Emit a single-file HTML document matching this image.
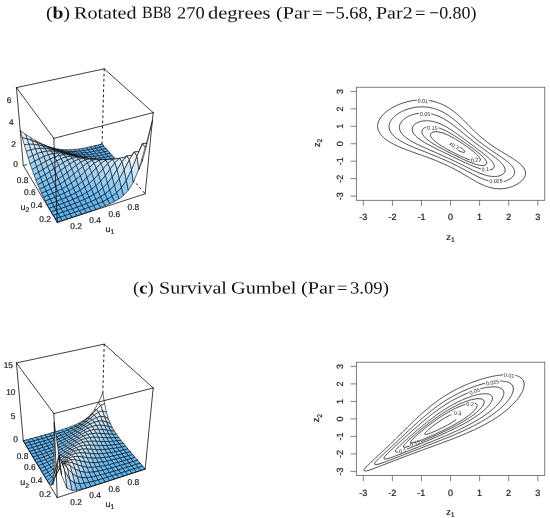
<!DOCTYPE html>
<html><head><meta charset="utf-8"><title>Copula density plots</title>
<style>
html,body{margin:0;padding:0;background:#fff;}
body{width:550px;height:518px;position:relative;overflow:hidden;font-family:"Liberation Serif",serif;}
.t{position:absolute;white-space:nowrap;color:#111;font-size:17.2px;line-height:20px;transform-origin:0 0;}
</style></head><body>
<svg width="550" height="518" viewBox="0 0 550 518" style="position:absolute;left:0;top:0" text-rendering="geometricPrecision">
<g id="surf1"><g stroke="#000" stroke-width="0.9" fill="none" stroke-dasharray="2.6 2.6">
<line x1="102.03" y1="144.01" x2="104.22" y2="68.84"/>
<line x1="102.03" y1="144.01" x2="145.16" y2="193.81"/>
<line x1="102.03" y1="144.01" x2="23.3" y2="165.56"/>
</g>
<g stroke="#000" stroke-width="0.58" stroke-linejoin="round">
<polygon points="100.1,147.24 104.03,146.24 102.03,143.95 98.12,144.96" fill="#5fb4f2"/>
<polygon points="96.14,148.21 100.1,147.24 98.12,144.96 94.19,145.93" fill="#5fb4f2"/>
<polygon points="92.17,149.1 96.14,148.21 94.19,145.93 90.23,146.85" fill="#5fb4f2"/>
<polygon points="102.1,149.56 106.05,148.55 104.03,146.24 100.1,147.24" fill="#5fb4f2"/>
<polygon points="98.13,150.5 102.1,149.56 100.1,147.24 96.14,148.21" fill="#5fb4f2"/>
<polygon points="88.16,149.91 92.17,149.1 90.23,146.85 86.25,147.69" fill="#5fb4f2"/>
<polygon points="94.13,151.37 98.13,150.5 96.14,148.21 92.17,149.1" fill="#5fb4f2"/>
<polygon points="104.13,151.89 108.1,150.89 106.05,148.55 102.1,149.56" fill="#5fb4f2"/>
<polygon points="84.13,150.59 88.16,149.91 86.25,147.69 82.23,148.44" fill="#62b6f2"/>
<polygon points="100.14,152.81 104.13,151.89 102.1,149.56 98.13,150.5" fill="#5fb4f2"/>
<polygon points="90.1,152.12 94.13,151.37 92.17,149.1 88.16,149.91" fill="#62b6f2"/>
<polygon points="80.06,151.12 84.13,150.59 82.23,148.44 78.19,149.05" fill="#66b7f3"/>
<polygon points="106.19,154.23 110.18,153.26 108.1,150.89 104.13,151.89" fill="#5fb4f2"/>
<polygon points="96.12,153.62 100.14,152.81 98.13,150.5 94.13,151.37" fill="#5fb4f2"/>
<polygon points="86.05,152.72 90.1,152.12 88.16,149.91 84.13,150.59" fill="#62b6f2"/>
<polygon points="75.96,151.46 80.06,151.12 78.19,149.05 74.11,149.51" fill="#66b7f3"/>
<polygon points="102.18,155.11 106.19,154.23 104.13,151.89 100.14,152.81" fill="#5fb4f2"/>
<polygon points="92.08,154.3 96.12,153.62 94.13,151.37 90.1,152.12" fill="#62b6f2"/>
<polygon points="81.96,153.13 86.05,152.72 84.13,150.59 80.06,151.12" fill="#66b7f3"/>
<polygon points="71.82,151.57 75.96,151.46 74.11,149.51 70,149.76" fill="#6cbaf3"/>
<polygon points="108.28,156.59 112.29,155.64 110.18,153.26 106.19,154.23" fill="#5fb4f2"/>
<polygon points="98.14,155.86 102.18,155.11 100.14,152.81 96.12,153.62" fill="#62b6f2"/>
<polygon points="88,154.79 92.08,154.3 90.1,152.12 86.05,152.72" fill="#66b7f3"/>
<polygon points="77.84,153.32 81.96,153.13 80.06,151.12 75.96,151.46" fill="#69b9f3"/>
<polygon points="67.64,151.41 71.82,151.57 70,149.76 65.84,149.78" fill="#6fbcf3"/>
<polygon points="104.25,157.41 108.28,156.59 106.19,154.23 102.18,155.11" fill="#5fb4f2"/>
<polygon points="94.08,156.42 98.14,155.86 96.12,153.62 92.08,154.3" fill="#62b6f2"/>
<polygon points="83.89,155.05 88,154.79 86.05,152.72 81.96,153.13" fill="#69b9f3"/>
<polygon points="73.67,153.25 77.84,153.32 75.96,151.46 71.82,151.57" fill="#6fbcf3"/>
<polygon points="110.4,158.94 114.43,158.05 112.29,155.64 108.28,156.59" fill="#5fb4f2"/>
<polygon points="100.2,158.05 104.25,157.41 102.18,155.11 98.14,155.86" fill="#62b6f2"/>
<polygon points="89.98,156.76 94.08,156.42 92.08,154.3 88,154.79" fill="#66b7f3"/>
<polygon points="63.4,150.96 67.64,151.41 65.84,149.78 61.63,149.51" fill="#76bff4"/>
<polygon points="79.74,155.05 83.89,155.05 81.96,153.13 77.84,153.32" fill="#6cbaf3"/>
<polygon points="106.36,159.67 110.4,158.94 108.28,156.59 104.25,157.41" fill="#5fb4f2"/>
<polygon points="96.11,158.47 100.2,158.05 98.14,155.86 94.08,156.42" fill="#66b7f3"/>
<polygon points="69.46,152.88 73.67,153.25 71.82,151.57 67.64,151.41" fill="#73bdf4"/>
<polygon points="85.85,156.83 89.98,156.76 88,154.79 83.89,155.05" fill="#69b9f3"/>
<polygon points="112.56,161.27 116.6,160.45 114.43,158.05 110.4,158.94" fill="#5fb4f2"/>
<polygon points="59.1,150.18 63.4,150.96 61.63,149.51 57.37,148.93" fill="#80c3f5"/>
<polygon points="75.55,154.75 79.74,155.05 77.84,153.32 73.67,153.25" fill="#73bdf4"/>
<polygon points="102.28,160.18 106.36,159.67 104.25,157.41 100.2,158.05" fill="#62b6f2"/>
<polygon points="92,158.6 96.11,158.47 94.08,156.42 89.98,156.76" fill="#69b9f3"/>
<polygon points="65.19,152.22 69.46,152.88 67.64,151.41 63.4,150.96" fill="#7cc2f4"/>
<polygon points="81.68,156.58 85.85,156.83 83.89,155.05 79.74,155.05" fill="#6fbcf3"/>
<polygon points="108.49,161.88 112.56,161.27 110.4,158.94 106.36,159.67" fill="#62b6f2"/>
<polygon points="98.18,160.39 102.28,160.18 100.2,158.05 96.11,158.47" fill="#66b7f3"/>
<polygon points="71.31,154.15 75.55,154.75 73.67,153.25 69.46,152.88" fill="#79c0f4"/>
<polygon points="54.74,149.09 59.1,150.18 57.37,148.93 53.04,147.98" fill="#89c8f5"/>
<polygon points="87.85,158.41 92,158.6 89.98,156.76 85.85,156.83" fill="#6cbaf3"/>
<polygon points="114.75,163.56 118.8,162.86 116.6,160.45 112.56,161.27" fill="#5fb4f2"/>
<polygon points="104.41,162.18 108.49,161.88 106.36,159.67 102.28,160.18" fill="#66b7f3"/>
<polygon points="77.46,156.03 81.68,156.58 79.74,155.05 75.55,154.75" fill="#76bff4"/>
<polygon points="60.86,151.27 65.19,152.22 63.4,150.96 59.1,150.18" fill="#83c5f5"/>
<polygon points="94.05,160.25 98.18,160.39 96.11,158.47 92,158.6" fill="#6cbaf3"/>
<polygon points="110.67,163.97 114.75,163.56 112.56,161.27 108.49,161.88" fill="#62b6f2"/>
<polygon points="67.01,153.28 71.31,154.15 69.46,152.88 65.19,152.22" fill="#80c3f5"/>
<polygon points="83.65,157.88 87.85,158.41 85.85,156.83 81.68,156.58" fill="#73bdf4"/>
<polygon points="100.29,162.1 104.41,162.18 102.28,160.18 98.18,160.39" fill="#69b9f3"/>
<polygon points="50.31,147.69 54.74,149.09 53.04,147.98 48.64,146.64" fill="#93ccf6"/>
<polygon points="73.19,155.19 77.46,156.03 75.55,154.75 71.31,154.15" fill="#80c3f5"/>
<polygon points="116.98,165.77 121.04,165.23 118.8,162.86 114.75,163.56" fill="#62b6f2"/>
<polygon points="89.88,159.73 94.05,160.25 92,158.6 87.85,158.41" fill="#73bdf4"/>
<polygon points="56.47,150.08 60.86,151.27 59.1,150.18 54.74,149.09" fill="#90cbf6"/>
<polygon points="106.57,163.99 110.67,163.97 108.49,161.88 104.41,162.18" fill="#69b9f3"/>
<polygon points="79.4,157.03 83.65,157.88 81.68,156.58 77.46,156.03" fill="#7cc2f4"/>
<polygon points="62.65,152.2 67.01,153.28 65.19,152.22 60.86,151.27" fill="#89c8f5"/>
<polygon points="96.14,161.61 100.29,162.1 98.18,160.39 94.05,160.25" fill="#6fbcf3"/>
<polygon points="112.89,165.89 116.98,165.77 114.75,163.56 110.67,163.97" fill="#66b7f3"/>
<polygon points="45.8,146.03 50.31,147.69 48.64,146.64 44.16,144.88" fill="#a0d3f7"/>
<polygon points="85.66,158.86 89.88,159.73 87.85,158.41 83.65,157.88" fill="#79c0f4"/>
<polygon points="68.86,154.14 73.19,155.19 71.31,154.15 67.01,153.28" fill="#89c8f5"/>
<polygon points="102.45,163.53 106.57,163.99 104.41,162.18 100.29,162.1" fill="#6cbaf3"/>
<polygon points="52.01,148.73 56.47,150.08 54.74,149.09 50.31,147.69" fill="#9ad0f7"/>
<polygon points="119.25,167.81 123.32,167.55 121.04,165.23 116.98,165.77" fill="#62b6f2"/>
<polygon points="91.95,160.69 96.14,161.61 94.05,160.25 89.88,159.73" fill="#79c0f4"/>
<polygon points="75.1,155.97 79.4,157.03 77.46,156.03 73.19,155.19" fill="#86c6f5"/>
<polygon points="108.79,165.49 112.89,165.89 110.67,163.97 106.57,163.99" fill="#6cbaf3"/>
<polygon points="58.23,151.02 62.65,152.2 60.86,151.27 56.47,150.08" fill="#97cef7"/>
<polygon points="98.29,162.57 102.45,163.53 100.29,162.1 96.14,161.61" fill="#76bff4"/>
<polygon points="81.38,157.73 85.66,158.86 83.65,157.88 79.4,157.03" fill="#83c5f5"/>
<polygon points="115.17,167.52 119.25,167.81 116.98,165.77 112.89,165.89" fill="#69b9f3"/>
<polygon points="64.46,153.02 68.86,154.14 67.01,153.28 62.65,152.2" fill="#93ccf6"/>
<polygon points="41.22,144.21 45.8,146.03 44.16,144.88 39.58,142.72" fill="#add9f8"/>
<polygon points="47.49,147.34 52.01,148.73 50.31,147.69 45.8,146.03" fill="#a7d6f8"/>
<polygon points="104.66,164.52 108.79,165.49 106.57,163.99 102.45,163.53" fill="#73bdf4"/>
<polygon points="121.58,169.59 125.65,169.74 123.32,167.55 119.25,167.81" fill="#66b7f3"/>
<polygon points="87.71,159.46 91.95,160.69 89.88,159.73 85.66,158.86" fill="#83c5f5"/>
<polygon points="70.74,154.83 75.1,155.97 73.19,155.19 68.86,154.14" fill="#90cbf6"/>
<polygon points="53.75,149.88 58.23,151.02 56.47,150.08 52.01,148.73" fill="#a0d3f7"/>
<polygon points="111.07,166.55 115.17,167.52 112.89,165.89 108.79,165.49" fill="#6fbcf3"/>
<polygon points="94.08,161.21 98.29,162.57 96.14,161.61 91.95,160.69" fill="#80c3f5"/>
<polygon points="77.05,156.51 81.38,157.73 79.4,157.03 75.1,155.97" fill="#8dc9f6"/>
<polygon points="60.02,152 64.46,153.02 62.65,152.2 58.23,151.02" fill="#9dd1f7"/>
<polygon points="117.51,168.67 121.58,169.59 119.25,167.81 115.17,167.52" fill="#6cbaf3"/>
<polygon points="36.56,142.32 41.22,144.21 39.58,142.72 34.91,140.15" fill="#bee0fa"/>
<polygon points="42.91,146.05 47.49,147.34 45.8,146.03 41.22,144.21" fill="#b1daf9"/>
<polygon points="100.49,163.01 104.66,164.52 102.45,163.53 98.29,162.57" fill="#7cc2f4"/>
<polygon points="83.4,158.1 87.71,159.46 85.66,158.86 81.38,157.73" fill="#8dc9f6"/>
<polygon points="66.32,153.84 70.74,154.83 68.86,154.14 64.46,153.02" fill="#9ad0f7"/>
<polygon points="49.21,148.94 53.75,149.88 52.01,148.73 47.49,147.34" fill="#aad7f8"/>
<polygon points="123.98,170.9 128.03,171.69 125.65,169.74 121.58,169.59" fill="#69b9f3"/>
<polygon points="106.94,164.9 111.07,166.55 108.79,165.49 104.66,164.52" fill="#79c0f4"/>
<polygon points="89.81,159.65 94.08,161.21 91.95,160.69 87.71,159.46" fill="#89c8f5"/>
<polygon points="72.65,155.46 77.05,156.51 75.1,155.97 70.74,154.83" fill="#9ad0f7"/>
<polygon points="55.52,151.27 60.02,152 58.23,151.02 53.75,149.88" fill="#a7d6f8"/>
<polygon points="113.42,166.91 117.51,168.67 115.17,167.52 111.07,166.55" fill="#76bff4"/>
<polygon points="61.85,153.2 66.32,153.84 64.46,153.02 60.02,152" fill="#a4d4f8"/>
<polygon points="38.28,145.02 42.91,146.05 41.22,144.21 36.56,142.32" fill="#bee0fa"/>
<polygon points="96.26,161.2 100.49,163.01 98.29,162.57 94.08,161.21" fill="#89c8f5"/>
<polygon points="79.04,156.91 83.4,158.1 81.38,157.73 77.05,156.51" fill="#97cef7"/>
<polygon points="31.84,140.51 36.56,142.32 34.91,140.15 30.12,137.24" fill="#cbe7fb"/>
<polygon points="44.64,148.38 49.21,148.94 47.49,147.34 42.91,146.05" fill="#b4dcf9"/>
<polygon points="119.94,169.08 123.98,170.9 121.58,169.59 117.51,168.67" fill="#73bdf4"/>
<polygon points="50.99,151 55.52,151.27 53.75,149.88 49.21,148.94" fill="#b1daf9"/>
<polygon points="68.21,154.82 72.65,155.46 70.74,154.83 66.32,153.84" fill="#a4d4f8"/>
<polygon points="102.75,162.79 106.94,164.9 104.66,164.52 100.49,163.01" fill="#86c6f5"/>
<polygon points="85.47,158.24 89.81,159.65 87.71,159.46 83.4,158.1" fill="#97cef7"/>
<polygon points="126.49,171.42 130.49,173.22 128.03,171.69 123.98,170.9" fill="#6fbcf3"/>
<polygon points="57.34,153.1 61.85,153.2 60.02,152 55.52,151.27" fill="#add9f8"/>
<polygon points="109.3,164.47 113.42,166.91 111.07,166.55 106.94,164.9" fill="#86c6f5"/>
<polygon points="33.61,144.37 38.28,145.02 36.56,142.32 31.84,140.51" fill="#cbe7fb"/>
<polygon points="74.61,156.2 79.04,156.91 77.05,156.51 72.65,155.46" fill="#a0d3f7"/>
<polygon points="40.05,148.3 44.64,148.38 42.91,146.05 38.28,145.02" fill="#bee0fa"/>
<polygon points="91.95,159.49 96.26,161.2 94.08,161.21 89.81,159.65" fill="#97cef7"/>
<polygon points="27.06,138.92 31.84,140.51 30.12,137.24 25.23,134.05" fill="#dbeefc"/>
<polygon points="46.44,151.28 50.99,151 49.21,148.94 44.64,148.38" fill="#b7ddf9"/>
<polygon points="63.73,154.81 68.21,154.82 66.32,153.84 61.85,153.2" fill="#aad7f8"/>
<polygon points="115.88,166.29 119.94,169.08 117.51,168.67 113.42,166.91" fill="#83c5f5"/>
<polygon points="81.07,157.37 85.47,158.24 83.4,158.1 79.04,156.91" fill="#a4d4f8"/>
<polygon points="52.82,153.64 57.34,153.1 55.52,151.27 50.99,151" fill="#b4dcf9"/>
<polygon points="98.5,160.69 102.75,162.79 100.49,163.01 96.26,161.2" fill="#97cef7"/>
<polygon points="122.5,168.31 126.49,171.42 123.98,170.9 119.94,169.08" fill="#80c3f5"/>
<polygon points="35.44,148.77 40.05,148.3 38.28,145.02 33.61,144.37" fill="#c4e3fa"/>
<polygon points="70.15,156.21 74.61,156.2 72.65,155.46 68.21,154.82" fill="#aad7f8"/>
<polygon points="28.93,144.22 33.61,144.37 31.84,140.51 27.06,138.92" fill="#d5ebfc"/>
<polygon points="41.88,152.17 46.44,151.28 44.64,148.38 40.05,148.3" fill="#badff9"/>
<polygon points="59.22,155.53 63.73,154.81 61.85,153.2 57.34,153.1" fill="#b1daf9"/>
<polygon points="129.14,170.58 133.06,173.94 130.49,173.22 126.49,171.42" fill="#7cc2f4"/>
<polygon points="87.58,158.37 91.95,159.49 89.81,159.65 85.47,158.24" fill="#a4d4f8"/>
<polygon points="105.1,161.87 109.3,164.47 106.94,164.9 102.75,162.79" fill="#97cef7"/>
<polygon points="48.29,154.82 52.82,153.64 50.99,151 46.44,151.28" fill="#b7ddf9"/>
<polygon points="76.61,157.35 81.07,157.37 79.04,156.91 74.61,156.2" fill="#aad7f8"/>
<polygon points="22.24,137.69 27.06,138.92 25.23,134.05 20.24,130.69" fill="#ebf6fd"/>
<polygon points="30.83,149.8 35.44,148.77 33.61,144.37 28.93,144.22" fill="#cbe7fb"/>
<polygon points="37.31,153.61 41.88,152.17 40.05,148.3 35.44,148.77" fill="#bee0fa"/>
<polygon points="65.65,157.07 70.15,156.21 68.21,154.82 63.73,154.81" fill="#b1daf9"/>
<polygon points="111.76,163.09 115.88,166.29 113.42,166.91 109.3,164.47" fill="#93ccf6"/>
<polygon points="54.7,156.96 59.22,155.53 57.34,153.1 52.82,153.64" fill="#b4dcf9"/>
<polygon points="94.16,159.21 98.5,160.69 96.26,161.2 91.95,159.49" fill="#a4d4f8"/>
<polygon points="24.24,144.61 28.93,144.22 27.06,138.92 22.24,137.69" fill="#dbeefc"/>
<polygon points="43.75,156.58 48.29,154.82 46.44,151.28 41.88,152.17" fill="#b7ddf9"/>
<polygon points="32.75,155.51 37.31,153.61 35.44,148.77 30.83,149.8" fill="#bee0fa"/>
<polygon points="83.14,158.23 87.58,158.37 85.47,158.24 81.07,157.37" fill="#add9f8"/>
<polygon points="26.23,151.32 30.83,149.8 28.93,144.22 24.24,144.61" fill="#cbe7fb"/>
<polygon points="118.47,164.4 122.5,168.31 119.94,169.08 115.88,166.29" fill="#93ccf6"/>
<polygon points="50.18,158.98 54.7,156.96 52.82,153.64 48.29,154.82" fill="#b4dcf9"/>
<polygon points="61.14,158.71 65.65,157.07 63.73,154.81 59.22,155.53" fill="#b1daf9"/>
<polygon points="72.13,158.29 76.61,157.35 74.61,156.2 70.15,156.21" fill="#b1daf9"/>
<polygon points="39.22,158.76 43.75,156.58 41.88,152.17 37.31,153.61" fill="#b4dcf9"/>
<polygon points="100.8,159.9 105.1,161.87 102.75,162.79 98.5,160.69" fill="#a4d4f8"/>
<polygon points="28.2,157.75 32.75,155.51 30.83,149.8 26.23,151.32" fill="#bee0fa"/>
<polygon points="45.66,161.41 50.18,158.98 48.29,154.82 43.75,156.58" fill="#b1daf9"/>
<polygon points="34.68,161.23 39.22,158.76 37.31,153.61 32.75,155.51" fill="#b1daf9"/>
<polygon points="125.23,165.85 129.14,170.58 126.49,171.42 122.5,168.31" fill="#90cbf6"/>
<polygon points="56.63,160.97 61.14,158.71 59.22,155.53 54.7,156.96" fill="#b1daf9"/>
<polygon points="89.74,158.89 94.16,159.21 91.95,159.49 87.58,158.37" fill="#add9f8"/>
<polygon points="67.62,160.14 72.13,158.29 70.15,156.21 65.65,157.07" fill="#b1daf9"/>
<polygon points="41.14,164.08 45.66,161.41 43.75,156.58 39.22,158.76" fill="#aad7f8"/>
<polygon points="30.15,163.85 34.68,161.23 32.75,155.51 28.2,157.75" fill="#add9f8"/>
<polygon points="78.66,159.25 83.14,158.23 81.07,157.37 76.61,157.35" fill="#b1daf9"/>
<polygon points="52.12,163.64 56.63,160.97 54.7,156.96 50.18,158.98" fill="#add9f8"/>
<polygon points="132.03,167.54 135.8,173.16 133.06,173.94 129.14,170.58" fill="#8dc9f6"/>
<polygon points="107.52,160.46 111.76,163.09 109.3,164.47 105.1,161.87" fill="#a7d6f8"/>
<polygon points="36.62,166.84 41.14,164.08 39.22,158.76 34.68,161.23" fill="#a7d6f8"/>
<polygon points="63.12,162.66 67.62,160.14 65.65,157.07 61.14,158.71" fill="#b1daf9"/>
<polygon points="47.61,166.51 52.12,163.64 50.18,158.98 45.66,161.41" fill="#a7d6f8"/>
<polygon points="32.07,169.58 36.62,166.84 34.68,161.23 30.15,163.85" fill="#a0d3f7"/>
<polygon points="43.08,169.41 47.61,166.51 45.66,161.41 41.14,164.08" fill="#a0d3f7"/>
<polygon points="74.16,161.3 78.66,159.25 76.61,157.35 72.13,158.29" fill="#b4dcf9"/>
<polygon points="58.61,165.57 63.12,162.66 61.14,158.71 56.63,160.97" fill="#aad7f8"/>
<polygon points="96.41,159.29 100.8,159.9 98.5,160.69 94.16,159.21" fill="#b1daf9"/>
<polygon points="85.26,159.94 89.74,158.89 87.58,158.37 83.14,158.23" fill="#b4dcf9"/>
<polygon points="38.55,172.24 43.08,169.41 41.14,164.08 36.62,166.84" fill="#9ad0f7"/>
<polygon points="54.09,168.65 58.61,165.57 56.63,160.97 52.12,163.64" fill="#a4d4f8"/>
<polygon points="114.32,160.89 118.47,164.4 115.88,166.29 111.76,163.09" fill="#a7d6f8"/>
<polygon points="33.99,174.95 38.55,172.24 36.62,166.84 32.07,169.58" fill="#93ccf6"/>
<polygon points="69.64,164.1 74.16,161.3 72.13,158.29 67.62,160.14" fill="#b1daf9"/>
<polygon points="49.57,171.71 54.09,168.65 52.12,163.64 47.61,166.51" fill="#9dd1f7"/>
<polygon points="45.03,174.64 49.57,171.71 47.61,166.51 43.08,169.41" fill="#97cef7"/>
<polygon points="65.13,167.29 69.64,164.1 67.62,160.14 63.12,162.66" fill="#aad7f8"/>
<polygon points="80.74,162.22 85.26,159.94 83.14,158.23 78.66,159.25" fill="#b7ddf9"/>
<polygon points="40.47,177.4 45.03,174.64 43.08,169.41 38.55,172.24" fill="#90cbf6"/>
<polygon points="60.61,170.59 65.13,167.29 63.12,162.66 58.61,165.57" fill="#a4d4f8"/>
<polygon points="103.16,159.43 107.52,160.46 105.1,161.87 100.8,159.9" fill="#b4dcf9"/>
<polygon points="56.08,173.82 60.61,170.59 58.61,165.57 54.09,168.65" fill="#9ad0f7"/>
<polygon points="121.21,161.19 125.23,165.85 122.5,168.31 118.47,164.4" fill="#a7d6f8"/>
<polygon points="91.93,160.36 96.41,159.29 94.16,159.21 89.74,158.89" fill="#b7ddf9"/>
<polygon points="35.88,179.97 40.47,177.4 38.55,172.24 33.99,174.95" fill="#89c8f5"/>
<polygon points="51.54,176.86 56.08,173.82 54.09,168.65 49.57,171.71" fill="#93ccf6"/>
<polygon points="76.22,165.33 80.74,162.22 78.66,159.25 74.16,161.3" fill="#b1daf9"/>
<polygon points="46.98,179.67 51.54,176.86 49.57,171.71 45.03,174.64" fill="#89c8f5"/>
<polygon points="71.69,168.84 76.22,165.33 74.16,161.3 69.64,164.1" fill="#aad7f8"/>
<polygon points="67.17,172.4 71.69,168.84 69.64,164.1 65.13,167.29" fill="#a0d3f7"/>
<polygon points="42.39,182.27 46.98,179.67 45.03,174.64 40.47,177.4" fill="#83c5f5"/>
<polygon points="62.63,175.81 67.17,172.4 65.13,167.29 60.61,170.59" fill="#9ad0f7"/>
<polygon points="58.09,178.97 62.63,175.81 60.61,170.59 56.08,173.82" fill="#90cbf6"/>
<polygon points="128.19,161.35 132.03,167.54 129.14,170.58 125.23,165.85" fill="#a7d6f8"/>
<polygon points="87.4,162.9 91.93,160.36 89.74,158.89 85.26,159.94" fill="#badff9"/>
<polygon points="37.77,184.67 42.39,182.27 40.47,177.4 35.88,179.97" fill="#80c3f5"/>
<polygon points="53.52,181.85 58.09,178.97 56.08,173.82 51.54,176.86" fill="#89c8f5"/>
<polygon points="110.01,159.25 114.32,160.89 111.76,163.09 107.52,160.46" fill="#badff9"/>
<polygon points="98.68,160.48 103.16,159.43 100.8,159.9 96.41,159.29" fill="#bee0fa"/>
<polygon points="82.86,166.39 87.4,162.9 85.26,159.94 80.74,162.22" fill="#b4dcf9"/>
<polygon points="48.93,184.47 53.52,181.85 51.54,176.86 46.98,179.67" fill="#80c3f5"/>
<polygon points="78.31,170.27 82.86,166.39 80.74,162.22 76.22,165.33" fill="#add9f8"/>
<polygon points="73.77,174.12 78.31,170.27 76.22,165.33 71.69,168.84" fill="#a4d4f8"/>
<polygon points="69.23,177.74 73.77,174.12 71.69,168.84 67.17,172.4" fill="#97cef7"/>
<polygon points="64.67,181.01 69.23,177.74 67.17,172.4 62.63,175.81" fill="#8dc9f6"/>
<polygon points="44.31,186.87 48.93,184.47 46.98,179.67 42.39,182.27" fill="#7cc2f4"/>
<polygon points="135.27,161.26 138.86,169.51 135.8,173.16 132.03,167.54" fill="#a7d6f8"/>
<polygon points="60.1,183.96 64.67,181.01 62.63,175.81 58.09,178.97" fill="#86c6f5"/>
<polygon points="55.51,186.61 60.1,183.96 58.09,178.97 53.52,181.85" fill="#80c3f5"/>
<polygon points="39.66,189.08 44.31,186.87 42.39,182.27 37.77,184.67" fill="#76bff4"/>
<polygon points="94.13,163.34 98.68,160.48 96.41,159.29 91.93,160.36" fill="#bee0fa"/>
<polygon points="116.97,158.68 121.21,161.19 118.47,164.4 114.32,160.89" fill="#bee0fa"/>
<polygon points="75.87,179.64 80.43,175.81 78.31,170.27 73.77,174.12" fill="#97cef7"/>
<polygon points="71.3,183.04 75.87,179.64 73.77,174.12 69.23,177.74" fill="#8dc9f6"/>
<polygon points="50.89,189.01 55.51,186.61 53.52,181.85 48.93,184.47" fill="#79c0f4"/>
<polygon points="80.43,175.81 84.99,171.61 82.86,166.39 78.31,170.27" fill="#a4d4f8"/>
<polygon points="89.56,167.29 94.13,163.34 91.93,160.36 87.4,162.9" fill="#b7ddf9"/>
<polygon points="66.72,186.05 71.3,183.04 69.23,177.74 64.67,181.01" fill="#83c5f5"/>
<polygon points="84.99,171.61 89.56,167.29 87.4,162.9 82.86,166.39" fill="#add9f8"/>
<polygon points="105.53,160.23 110.01,159.25 107.52,160.46 103.16,159.43" fill="#c4e3fa"/>
<polygon points="62.13,188.71 66.72,186.05 64.67,181.01 60.1,183.96" fill="#7cc2f4"/>
<polygon points="46.23,191.21 50.89,189.01 48.93,184.47 44.31,186.87" fill="#73bdf4"/>
<polygon points="57.5,191.11 62.13,188.71 60.1,183.96 55.51,186.61" fill="#76bff4"/>
<polygon points="77.98,185.09 82.55,181.56 80.43,175.81 75.87,179.64" fill="#89c8f5"/>
<polygon points="82.55,181.56 87.13,177.49 84.99,171.61 80.43,175.81" fill="#97cef7"/>
<polygon points="73.39,188.14 77.98,185.09 75.87,179.64 71.3,183.04" fill="#83c5f5"/>
<polygon points="41.55,193.25 46.23,191.21 44.31,186.87 39.66,189.08" fill="#6fbcf3"/>
<polygon points="87.13,177.49 91.72,172.9 89.56,167.29 84.99,171.61" fill="#a4d4f8"/>
<polygon points="68.79,190.82 73.39,188.14 71.3,183.04 66.72,186.05" fill="#79c0f4"/>
<polygon points="100.95,163.5 105.53,160.23 103.16,159.43 98.68,160.48" fill="#c4e3fa"/>
<polygon points="52.85,193.29 57.5,191.11 55.51,186.61 50.89,189.01" fill="#73bdf4"/>
<polygon points="91.72,172.9 96.33,168.04 94.13,163.34 89.56,167.29" fill="#b1daf9"/>
<polygon points="124.06,157.55 128.19,161.35 125.23,165.85 121.21,161.19" fill="#c4e3fa"/>
<polygon points="96.33,168.04 100.95,163.5 98.68,160.48 94.13,163.34" fill="#bee0fa"/>
<polygon points="64.16,193.2 68.79,190.82 66.72,186.05 62.13,188.71" fill="#73bdf4"/>
<polygon points="84.7,187.18 89.29,183.53 87.13,177.49 82.55,181.56" fill="#89c8f5"/>
<polygon points="80.1,190.26 84.7,187.18 82.55,181.56 77.98,185.09" fill="#80c3f5"/>
<polygon points="48.16,195.31 52.85,193.29 50.89,189.01 46.23,191.21" fill="#6fbcf3"/>
<polygon points="89.29,183.53 93.89,179.22 91.72,172.9 87.13,177.49" fill="#97cef7"/>
<polygon points="112.49,159.54 116.97,158.68 114.32,160.89 110.01,159.25" fill="#cbe7fb"/>
<polygon points="75.5,192.93 80.1,190.26 77.98,185.09 73.39,188.14" fill="#79c0f4"/>
<polygon points="59.51,195.36 64.16,193.2 62.13,188.71 57.5,191.11" fill="#6fbcf3"/>
<polygon points="93.89,179.22 98.52,174.19 96.33,168.04 91.72,172.9" fill="#a4d4f8"/>
<polygon points="70.87,195.28 75.5,192.93 73.39,188.14 68.79,190.82" fill="#73bdf4"/>
<polygon points="43.45,197.22 48.16,195.31 46.23,191.21 41.55,193.25" fill="#6cbaf3"/>
<polygon points="91.46,189.33 96.07,185.6 93.89,179.22 89.29,183.53" fill="#86c6f5"/>
<polygon points="86.86,192.43 91.46,189.33 89.29,183.53 84.7,187.18" fill="#7cc2f4"/>
<polygon points="54.82,197.35 59.51,195.36 57.5,191.11 52.85,193.29" fill="#6cbaf3"/>
<polygon points="98.52,174.19 103.18,168.66 100.95,163.5 96.33,168.04" fill="#b4dcf9"/>
<polygon points="96.07,185.6 100.7,181.03 98.52,174.19 93.89,179.22" fill="#97cef7"/>
<polygon points="82.25,195.07 86.86,192.43 84.7,187.18 80.1,190.26" fill="#76bff4"/>
<polygon points="107.86,163.35 112.49,159.54 110.01,159.25 105.53,160.23" fill="#cee8fb"/>
<polygon points="66.21,197.41 70.87,195.28 68.79,190.82 64.16,193.2" fill="#6cbaf3"/>
<polygon points="131.34,155.53 135.27,161.26 132.03,167.54 128.19,161.35" fill="#cbe7fb"/>
<polygon points="103.18,168.66 107.86,163.35 105.53,160.23 100.95,163.5" fill="#c4e3fa"/>
<polygon points="77.62,197.38 82.25,195.07 80.1,190.26 75.5,192.93" fill="#6fbcf3"/>
<polygon points="50.1,199.23 54.82,197.35 52.85,193.29 48.16,195.31" fill="#69b9f3"/>
<polygon points="100.7,181.03 105.38,175.5 103.18,168.66 98.52,174.19" fill="#a7d6f8"/>
<polygon points="93.66,194.65 98.27,191.58 96.07,185.6 91.46,189.33" fill="#79c0f4"/>
<polygon points="98.27,191.58 102.89,187.8 100.7,181.03 96.07,185.6" fill="#86c6f5"/>
<polygon points="61.53,199.37 66.21,197.41 64.16,193.2 59.51,195.36" fill="#69b9f3"/>
<polygon points="89.05,197.23 93.66,194.65 91.46,189.33 86.86,192.43" fill="#73bdf4"/>
<polygon points="119.59,158.22 124.06,157.55 121.21,161.19 116.97,158.68" fill="#d5ebfc"/>
<polygon points="102.89,187.8 107.56,183 105.38,175.5 100.7,181.03" fill="#93ccf6"/>
<polygon points="72.96,199.46 77.62,197.38 75.5,192.93 70.87,195.28" fill="#6cbaf3"/>
<polygon points="45.35,201.02 50.1,199.23 48.16,195.31 43.45,197.22" fill="#66b7f3"/>
<polygon points="105.38,175.5 110.11,169.15 107.86,163.35 103.18,168.66" fill="#badff9"/>
<polygon points="84.42,199.48 89.05,197.23 86.86,192.43 82.25,195.07" fill="#6cbaf3"/>
<polygon points="100.51,196.93 105.12,193.94 102.89,187.8 98.27,191.58" fill="#76bff4"/>
<polygon points="105.12,193.94 109.76,190.15 107.56,183 102.89,187.8" fill="#83c5f5"/>
<polygon points="56.81,201.22 61.53,199.37 59.51,195.36 54.82,197.35" fill="#69b9f3"/>
<polygon points="68.28,201.38 72.96,199.46 70.87,195.28 66.21,197.41" fill="#69b9f3"/>
<polygon points="95.89,199.43 100.51,196.93 98.27,191.58 93.66,194.65" fill="#6fbcf3"/>
<polygon points="107.56,183 112.29,176.91 110.11,169.15 105.38,175.5" fill="#a7d6f8"/>
<polygon points="79.76,201.51 84.42,199.48 82.25,195.07 77.62,197.38" fill="#69b9f3"/>
<polygon points="109.76,190.15 114.45,185.17 112.29,176.91 107.56,183" fill="#93ccf6"/>
<polygon points="110.11,169.15 114.88,162.79 112.49,159.54 107.86,163.35" fill="#cbe7fb"/>
<polygon points="114.88,162.79 119.59,158.22 116.97,158.68 112.49,159.54" fill="#d8edfc"/>
<polygon points="138.89,151.77 142.5,160.57 138.86,169.51 135.27,161.26" fill="#d5ebfc"/>
<polygon points="91.26,201.6 95.89,199.43 93.66,194.65 89.05,197.23" fill="#6cbaf3"/>
<polygon points="107.39,199.26 112.01,196.39 109.76,190.15 105.12,193.94" fill="#73bdf4"/>
<polygon points="112.01,196.39 116.65,192.69 114.45,185.17 109.76,190.15" fill="#80c3f5"/>
<polygon points="52.06,202.99 56.81,201.22 54.82,197.35 50.1,199.23" fill="#66b7f3"/>
<polygon points="63.57,203.2 68.28,201.38 66.21,197.41 61.53,199.37" fill="#66b7f3"/>
<polygon points="102.78,201.64 107.39,199.26 105.12,193.94 100.51,196.93" fill="#6cbaf3"/>
<polygon points="75.08,203.39 79.76,201.51 77.62,197.38 72.96,199.46" fill="#66b7f3"/>
<polygon points="116.65,192.69 121.38,187.59 119.27,178.47 114.45,185.17" fill="#90cbf6"/>
<polygon points="86.61,203.56 91.26,201.6 89.05,197.23 84.42,199.48" fill="#69b9f3"/>
<polygon points="112.29,176.91 117.13,169.51 114.88,162.79 110.11,169.15" fill="#bee0fa"/>
<polygon points="114.45,185.17 119.27,178.47 117.13,169.51 112.29,176.91" fill="#a7d6f8"/>
<polygon points="118.93,198.94 123.57,195.41 121.38,187.59 116.65,192.69" fill="#7cc2f4"/>
<polygon points="114.32,201.63 118.93,198.94 116.65,192.69 112.01,196.39" fill="#6fbcf3"/>
<polygon points="98.16,203.71 102.78,201.64 100.51,196.93 95.89,199.43" fill="#69b9f3"/>
<polygon points="126.87,155.92 131.34,155.53 128.19,161.35 124.06,157.55" fill="#e2f1fd"/>
<polygon points="47.28,204.7 52.06,202.99 50.1,199.23 45.35,201.02" fill="#66b7f3"/>
<polygon points="58.82,204.94 63.57,203.2 61.53,199.37 56.81,201.22" fill="#66b7f3"/>
<polygon points="109.72,203.85 114.32,201.63 112.01,196.39 107.39,199.26" fill="#69b9f3"/>
<polygon points="70.37,205.17 75.08,203.39 72.96,199.46 68.28,201.38" fill="#66b7f3"/>
<polygon points="123.57,195.41 128.33,190.33 126.28,180.26 121.38,187.59" fill="#8dc9f6"/>
<polygon points="81.94,205.38 86.61,203.56 84.42,199.48 79.76,201.51" fill="#66b7f3"/>
<polygon points="93.51,205.6 98.16,203.71 95.89,199.43 91.26,201.6" fill="#66b7f3"/>
<polygon points="117.13,169.51 122.05,161.69 119.59,158.22 114.88,162.79" fill="#d5ebfc"/>
<polygon points="105.1,205.81 109.72,203.85 107.39,199.26 102.78,201.64" fill="#66b7f3"/>
<polygon points="121.38,187.59 126.28,180.26 124.25,169.71 119.27,178.47" fill="#a7d6f8"/>
<polygon points="54.04,206.63 58.82,204.94 56.81,201.22 52.06,202.99" fill="#62b6f2"/>
<polygon points="65.63,206.88 70.37,205.17 68.28,201.38 63.57,203.2" fill="#62b6f2"/>
<polygon points="122.05,161.69 126.87,155.92 124.06,157.55 119.59,158.22" fill="#e2f1fd"/>
<polygon points="77.23,207.12 81.94,205.38 79.76,201.51 75.08,203.39" fill="#62b6f2"/>
<polygon points="119.27,178.47 124.25,169.71 122.05,161.69 117.13,169.51" fill="#c4e3fa"/>
<polygon points="88.84,207.37 93.51,205.6 91.26,201.6 86.61,203.56" fill="#62b6f2"/>
<polygon points="100.47,207.62 105.1,205.81 102.78,201.64 98.16,203.71" fill="#62b6f2"/>
<polygon points="49.22,208.28 54.04,206.63 52.06,202.99 47.28,204.7" fill="#62b6f2"/>
<polygon points="60.85,208.55 65.63,206.88 63.57,203.2 58.82,204.94" fill="#62b6f2"/>
<polygon points="128.33,190.33 133.33,182.35 131.47,169.68 126.28,180.26" fill="#a7d6f8"/>
<polygon points="72.49,208.81 77.23,207.12 75.08,203.39 70.37,205.17" fill="#62b6f2"/>
<polygon points="84.14,209.07 88.84,207.37 86.61,203.56 81.94,205.38" fill="#62b6f2"/>
<polygon points="95.8,209.33 100.47,207.62 98.16,203.71 93.51,205.6" fill="#62b6f2"/>
<polygon points="134.44,151.85 138.89,151.77 135.27,161.26 131.34,155.53" fill="#f2f9fe"/>
<polygon points="56.04,210.19 60.85,208.55 58.82,204.94 54.04,206.63" fill="#62b6f2"/>
<polygon points="67.72,210.46 72.49,208.81 70.37,205.17 65.63,206.88" fill="#62b6f2"/>
<polygon points="124.25,169.71 129.39,159.68 126.87,155.92 122.05,161.69" fill="#e2f1fd"/>
<polygon points="126.28,180.26 131.47,169.68 129.39,159.68 124.25,169.71" fill="#cbe7fb"/>
<polygon points="79.41,210.72 84.14,209.07 81.94,205.38 77.23,207.12" fill="#5fb4f2"/>
<polygon points="91.11,210.99 95.8,209.33 93.51,205.6 88.84,207.37" fill="#5fb4f2"/>
<polygon points="51.19,211.81 56.04,210.19 54.04,206.63 49.22,208.28" fill="#5fb4f2"/>
<polygon points="129.39,159.68 134.44,151.85 131.34,155.53 126.87,155.92" fill="#f5fafe"/>
<polygon points="62.91,212.08 67.72,210.46 65.63,206.88 60.85,208.55" fill="#5fb4f2"/>
<polygon points="74.64,212.35 79.41,210.72 77.23,207.12 72.49,208.81" fill="#5fb4f2"/>
<polygon points="86.38,212.62 91.11,210.99 88.84,207.37 84.14,209.07" fill="#5fb4f2"/>
<polygon points="58.06,213.7 62.91,212.08 60.85,208.55 56.04,210.19" fill="#5fb4f2"/>
<polygon points="69.83,213.97 74.64,212.35 72.49,208.81 67.72,210.46" fill="#5fb4f2"/>
<polygon points="133.33,182.35 138.84,169.04 137.01,155.93 131.47,169.68" fill="#d5ebfc"/>
<polygon points="81.62,214.24 86.38,212.62 84.14,209.07 79.41,210.72" fill="#5fb4f2"/>
<polygon points="131.47,169.68 137.01,155.93 134.44,151.85 129.39,159.68" fill="#f2f9fe"/>
<polygon points="53.18,215.31 58.06,213.7 56.04,210.19 51.19,211.81" fill="#5fb4f2"/>
<polygon points="65,215.58 69.83,213.97 67.72,210.46 62.91,212.08" fill="#5fb4f2"/>
<polygon points="76.82,215.84 81.62,214.24 79.41,210.72 74.64,212.35" fill="#5fb4f2"/>
<polygon points="142.55,143.66 147.06,143.35 142.5,160.57 138.89,151.77" fill="#ffffff"/>
<polygon points="60.12,217.19 65,215.58 62.91,212.08 58.06,213.7" fill="#5fb4f2"/>
<polygon points="71.98,217.45 76.82,215.84 74.64,212.35 69.83,213.97" fill="#5fb4f2"/>
<polygon points="137.01,155.93 142.55,143.66 138.89,151.77 134.44,151.85" fill="#ffffff"/>
<polygon points="55.21,218.8 60.12,217.19 58.06,213.7 53.18,215.31" fill="#5fb4f2"/>
<polygon points="67.11,219.06 71.98,217.45 69.83,213.97 65,215.58" fill="#5fb4f2"/>
<polygon points="62.21,220.67 67.11,219.06 65,215.58 60.12,217.19" fill="#5fb4f2"/>
<polygon points="138.84,169.04 145.24,147.49 142.55,143.66 137.01,155.93" fill="#ffffff"/>
<polygon points="57.26,222.29 62.21,220.67 60.12,217.19 55.21,218.8" fill="#5fb4f2"/>
<polygon points="145.24,147.49 152.38,120.83 147.06,143.35 142.55,143.66" fill="#ffffff"/>
</g>
<g stroke="#000" stroke-width="0.75" fill="none" stroke-linecap="round">
<line x1="57.26" y1="222.36" x2="145.16" y2="193.81"/>
<line x1="57.26" y1="222.36" x2="23.3" y2="165.56"/>
<line x1="57.26" y1="222.36" x2="53.87" y2="138.35"/>
<line x1="145.16" y1="193.81" x2="153.19" y2="112.61"/>
<line x1="23.3" y1="165.56" x2="16.45" y2="87.61"/>
<line x1="53.87" y1="138.35" x2="153.19" y2="112.61"/>
<line x1="53.87" y1="138.35" x2="16.45" y2="87.61"/>
<line x1="153.19" y1="112.61" x2="104.22" y2="68.84"/>
<line x1="16.45" y1="87.61" x2="104.22" y2="68.84"/>
</g></g>
<g id="surf2"><g stroke="#000" stroke-width="0.9" fill="none" stroke-dasharray="2.6 2.6">
<line x1="102.03" y1="419.31" x2="104.22" y2="344.14"/>
<line x1="102.03" y1="419.31" x2="145.16" y2="469.11"/>
<line x1="102.03" y1="419.31" x2="23.3" y2="440.86"/>
</g>
<g stroke="#000" stroke-width="0.58" stroke-linejoin="round">
<polygon points="84.14,421.36 88.23,418.07 86.27,418.54 82.23,421.28" fill="#9ad0f7"/>
<polygon points="88.23,418.07 92.32,414.13 90.32,414.91 86.27,418.54" fill="#b1daf9"/>
<polygon points="80.05,424.11 84.14,421.36 82.23,421.28 78.18,423.47" fill="#86c6f5"/>
<polygon points="92.32,414.13 96.43,409.68 94.39,409.84 90.32,414.91" fill="#d5ebfc"/>
<polygon points="75.96,426.41 80.05,424.11 78.18,423.47 74.12,425.31" fill="#7cc2f4"/>
<polygon points="96.43,409.68 100.55,405.43 98.54,402.53 94.39,409.84" fill="#ffffff"/>
<polygon points="71.84,428.4 75.96,426.41 74.12,425.31 70.03,426.93" fill="#73bdf4"/>
<polygon points="67.71,430.16 71.84,428.4 70.03,426.93 65.92,428.4" fill="#6cbaf3"/>
<polygon points="100.55,405.43 104.6,403.72 102.8,392.83 98.54,402.53" fill="#ffffff"/>
<polygon points="102.51,410.91 106.46,412.28 104.6,403.72 100.55,405.43" fill="#ffffff"/>
<polygon points="104.47,416.63 108.39,418.64 106.46,412.28 102.51,410.91" fill="#d5ebfc"/>
<polygon points="63.55,431.75 67.71,430.16 65.92,428.4 61.78,429.78" fill="#69b9f3"/>
<polygon points="86.09,421.73 90.21,418.44 88.23,418.07 84.14,421.36" fill="#b1daf9"/>
<polygon points="90.21,418.44 94.34,415.12 92.32,414.13 88.23,418.07" fill="#cbe7fb"/>
<polygon points="81.96,424.74 86.09,421.73 84.14,421.36 80.05,424.11" fill="#9dd1f7"/>
<polygon points="98.45,412.3 102.51,410.91 100.55,405.43 96.43,409.68" fill="#fcfdff"/>
<polygon points="94.34,415.12 98.45,412.3 96.43,409.68 92.32,414.13" fill="#e5f3fd"/>
<polygon points="106.46,421.87 110.38,423.58 108.39,418.64 104.47,416.63" fill="#b1daf9"/>
<polygon points="77.83,427.4 81.96,424.74 80.05,424.11 75.96,426.41" fill="#8dc9f6"/>
<polygon points="59.36,433.23 63.55,431.75 61.78,429.78 57.62,431.09" fill="#66b7f3"/>
<polygon points="73.69,429.74 77.83,427.4 75.96,426.41 71.84,428.4" fill="#80c3f5"/>
<polygon points="100.45,416.38 104.47,416.63 102.51,410.91 98.45,412.3" fill="#e5f3fd"/>
<polygon points="108.49,426.51 112.43,427.67 110.38,423.58 106.46,421.87" fill="#9ad0f7"/>
<polygon points="69.52,431.8 73.69,429.74 71.84,428.4 67.71,430.16" fill="#76bff4"/>
<polygon points="55.15,434.62 59.36,433.23 57.62,431.09 53.43,432.36" fill="#62b6f2"/>
<polygon points="65.34,433.64 69.52,431.8 67.71,430.16 63.55,431.75" fill="#6fbcf3"/>
<polygon points="96.36,417.58 100.45,416.38 98.45,412.3 94.34,415.12" fill="#e2f1fd"/>
<polygon points="102.46,421 106.46,421.87 104.47,416.63 100.45,416.38" fill="#cbe7fb"/>
<polygon points="50.91,435.95 55.15,434.62 53.43,432.36 49.21,433.6" fill="#5fb4f2"/>
<polygon points="92.22,419.81 96.36,417.58 94.34,415.12 90.21,418.44" fill="#d5ebfc"/>
<polygon points="110.56,430.61 114.53,431.22 112.43,427.67 108.49,426.51" fill="#86c6f5"/>
<polygon points="88.07,422.58 92.22,419.81 90.21,418.44 86.09,421.73" fill="#c1e2fa"/>
<polygon points="61.13,435.3 65.34,433.64 63.55,431.75 59.36,433.23" fill="#69b9f3"/>
<polygon points="83.9,425.51 88.07,422.58 86.09,421.73 81.96,424.74" fill="#add9f8"/>
<polygon points="79.74,428.33 83.9,425.51 81.96,424.74 77.83,427.4" fill="#9dd1f7"/>
<polygon points="46.64,437.25 50.91,435.95 49.21,433.6 44.96,434.82" fill="#5fb4f2"/>
<polygon points="104.49,425.62 108.49,426.51 106.46,421.87 102.46,421" fill="#b1daf9"/>
<polygon points="75.56,430.94 79.74,428.33 77.83,427.4 73.69,429.74" fill="#8dc9f6"/>
<polygon points="56.9,436.85 61.13,435.3 59.36,433.23 55.15,434.62" fill="#66b7f3"/>
<polygon points="98.38,421.1 102.46,421 100.45,416.38 96.36,417.58" fill="#d5ebfc"/>
<polygon points="71.37,433.29 75.56,430.94 73.69,429.74 69.52,431.8" fill="#80c3f5"/>
<polygon points="42.34,438.51 46.64,437.25 44.96,434.82 40.69,436.04" fill="#5fb4f2"/>
<polygon points="112.66,434.32 116.66,434.46 114.53,431.22 110.56,430.61" fill="#7cc2f4"/>
<polygon points="67.16,435.39 71.37,433.29 69.52,431.8 65.34,433.64" fill="#76bff4"/>
<polygon points="52.63,438.29 56.9,436.85 55.15,434.62 50.91,435.95" fill="#62b6f2"/>
<polygon points="106.54,429.99 110.56,430.61 108.49,426.51 104.49,425.62" fill="#9dd1f7"/>
<polygon points="94.25,422.2 98.38,421.1 96.36,417.58 92.22,419.81" fill="#d5ebfc"/>
<polygon points="100.42,425.2 104.49,425.62 102.46,421 98.38,421.1" fill="#c1e2fa"/>
<polygon points="38.02,439.76 42.34,438.51 40.69,436.04 36.39,437.24" fill="#5fb4f2"/>
<polygon points="62.92,437.29 67.16,435.39 65.34,433.64 61.13,435.3" fill="#6fbcf3"/>
<polygon points="90.08,424.14 94.25,422.2 92.22,419.81 88.07,422.58" fill="#cbe7fb"/>
<polygon points="48.34,439.68 52.63,438.29 50.91,435.95 46.64,437.25" fill="#62b6f2"/>
<polygon points="85.88,426.61 90.08,424.14 88.07,422.58 83.9,425.51" fill="#bee0fa"/>
<polygon points="81.68,429.32 85.88,426.61 83.9,425.51 79.74,428.33" fill="#add9f8"/>
<polygon points="58.67,439.01 62.92,437.29 61.13,435.3 56.9,436.85" fill="#69b9f3"/>
<polygon points="108.62,434.05 112.66,434.32 110.56,430.61 106.54,429.99" fill="#8dc9f6"/>
<polygon points="114.8,437.73 118.84,437.5 116.66,434.46 112.66,434.32" fill="#73bdf4"/>
<polygon points="33.66,441 38.02,439.76 36.39,437.24 32.05,438.44" fill="#5fb4f2"/>
<polygon points="77.46,432.05 81.68,429.32 79.74,428.33 75.56,430.94" fill="#9dd1f7"/>
<polygon points="102.46,429.48 106.54,429.99 104.49,425.62 100.42,425.2" fill="#add9f8"/>
<polygon points="44.02,441.01 48.34,439.68 46.64,437.25 42.34,438.51" fill="#5fb4f2"/>
<polygon points="96.29,425.45 100.42,425.2 98.38,421.1 94.25,422.2" fill="#cbe7fb"/>
<polygon points="73.24,434.63 77.46,432.05 75.56,430.94 71.37,433.29" fill="#8dc9f6"/>
<polygon points="54.38,440.61 58.67,439.01 56.9,436.85 52.63,438.29" fill="#66b7f3"/>
<polygon points="69,437 73.24,434.63 71.37,433.29 67.16,435.39" fill="#83c5f5"/>
<polygon points="29.28,442.23 33.66,441 32.05,438.44 27.69,439.65" fill="#5fb4f2"/>
<polygon points="39.67,442.31 44.02,441.01 42.34,438.51 38.02,439.76" fill="#5fb4f2"/>
<polygon points="92.11,426.49 96.29,425.45 94.25,422.2 90.08,424.14" fill="#cbe7fb"/>
<polygon points="110.73,437.81 114.8,437.73 112.66,434.32 108.62,434.05" fill="#80c3f5"/>
<polygon points="50.07,442.1 54.38,440.61 52.63,438.29 48.34,439.68" fill="#62b6f2"/>
<polygon points="64.74,439.15 69,437 67.16,435.39 62.92,437.29" fill="#76bff4"/>
<polygon points="104.53,433.69 108.62,434.05 106.54,429.99 102.46,429.48" fill="#9dd1f7"/>
<polygon points="116.98,440.94 121.05,440.42 118.84,437.5 114.8,437.73" fill="#6cbaf3"/>
<polygon points="98.34,429.28 102.46,429.48 100.42,425.2 96.29,425.45" fill="#bee0fa"/>
<polygon points="24.86,443.46 29.28,442.23 27.69,439.65 23.3,440.85" fill="#5fb4f2"/>
<polygon points="87.89,428.25 92.11,426.49 90.08,424.14 85.88,426.61" fill="#c4e3fa"/>
<polygon points="35.29,443.58 39.67,442.31 38.02,439.76 33.66,441" fill="#5fb4f2"/>
<polygon points="60.46,441.09 64.74,439.15 62.92,437.29 58.67,439.01" fill="#6fbcf3"/>
<polygon points="45.72,443.51 50.07,442.1 48.34,439.68 44.02,441.01" fill="#62b6f2"/>
<polygon points="83.66,430.56 87.89,428.25 85.88,426.61 81.68,429.32" fill="#badff9"/>
<polygon points="79.41,433.17 83.66,430.56 81.68,429.32 77.46,432.05" fill="#aad7f8"/>
<polygon points="56.15,442.87 60.46,441.09 58.67,439.01 54.38,440.61" fill="#69b9f3"/>
<polygon points="106.63,437.72 110.73,437.81 108.62,434.05 104.53,433.69" fill="#8dc9f6"/>
<polygon points="94.16,429.6 98.34,429.28 96.29,425.45 92.11,426.49" fill="#c4e3fa"/>
<polygon points="30.88,444.84 35.29,443.58 33.66,441 29.28,442.23" fill="#5fb4f2"/>
<polygon points="112.89,441.32 116.98,440.94 114.8,437.73 110.73,437.81" fill="#76bff4"/>
<polygon points="75.14,435.85 79.41,433.17 77.46,432.05 73.24,434.63" fill="#9dd1f7"/>
<polygon points="100.4,433.38 104.53,433.69 102.46,429.48 98.34,429.28" fill="#add9f8"/>
<polygon points="41.35,444.88 45.72,443.51 44.02,441.01 39.67,442.31" fill="#5fb4f2"/>
<polygon points="70.87,438.44 75.14,435.85 73.24,434.63 69,437" fill="#8dc9f6"/>
<polygon points="119.2,444.02 123.3,443.28 121.05,440.42 116.98,440.94" fill="#69b9f3"/>
<polygon points="51.82,444.5 56.15,442.87 54.38,440.61 50.07,442.1" fill="#66b7f3"/>
<polygon points="66.59,440.85 70.87,438.44 69,437 64.74,439.15" fill="#80c3f5"/>
<polygon points="26.44,446.1 30.88,444.84 29.28,442.23 24.86,443.46" fill="#5fb4f2"/>
<polygon points="89.93,430.59 94.16,429.6 92.11,426.49 87.89,428.25" fill="#c7e5fa"/>
<polygon points="36.95,446.2 41.35,444.88 39.67,442.31 35.29,443.58" fill="#5fb4f2"/>
<polygon points="47.45,446.02 51.82,444.5 50.07,442.1 45.72,443.51" fill="#62b6f2"/>
<polygon points="108.76,441.53 112.89,441.32 110.73,437.81 106.63,437.72" fill="#80c3f5"/>
<polygon points="62.28,443.05 66.59,440.85 64.74,439.15 60.46,441.09" fill="#76bff4"/>
<polygon points="102.49,437.52 106.63,437.72 104.53,433.69 100.4,433.38" fill="#9dd1f7"/>
<polygon points="96.22,433.29 100.4,433.38 98.34,429.28 94.16,429.6" fill="#badff9"/>
<polygon points="85.67,432.25 89.93,430.59 87.89,428.25 83.66,430.56" fill="#c1e2fa"/>
<polygon points="115.08,444.64 119.2,444.02 116.98,440.94 112.89,441.32" fill="#6fbcf3"/>
<polygon points="32.51,447.5 36.95,446.2 35.29,443.58 30.88,444.84" fill="#5fb4f2"/>
<polygon points="57.95,445.04 62.28,443.05 60.46,441.09 56.15,442.87" fill="#6fbcf3"/>
<polygon points="81.38,434.47 85.67,432.25 83.66,430.56 79.41,433.17" fill="#b7ddf9"/>
<polygon points="43.05,447.46 47.45,446.02 45.72,443.51 41.35,444.88" fill="#5fb4f2"/>
<polygon points="121.46,447 125.58,446.1 123.3,443.28 119.2,444.02" fill="#66b7f3"/>
<polygon points="77.09,437.04 81.38,434.47 79.41,433.17 75.14,435.85" fill="#aad7f8"/>
<polygon points="53.59,446.85 57.95,445.04 56.15,442.87 51.82,444.5" fill="#69b9f3"/>
<polygon points="91.99,433.63 96.22,433.29 94.16,429.6 89.93,430.59" fill="#c1e2fa"/>
<polygon points="104.6,441.55 108.76,441.53 106.63,437.72 102.49,437.52" fill="#8dc9f6"/>
<polygon points="28.04,448.77 32.51,447.5 30.88,444.84 26.44,446.1" fill="#5fb4f2"/>
<polygon points="98.3,437.31 102.49,437.52 100.4,433.38 96.22,433.29" fill="#aad7f8"/>
<polygon points="72.78,439.73 77.09,437.04 75.14,435.85 70.87,438.44" fill="#9ad0f7"/>
<polygon points="110.93,445.12 115.08,444.64 112.89,441.32 108.76,441.53" fill="#76bff4"/>
<polygon points="38.62,448.84 43.05,447.46 41.35,444.88 36.95,446.2" fill="#5fb4f2"/>
<polygon points="68.46,442.37 72.78,439.73 70.87,438.44 66.59,440.85" fill="#8dc9f6"/>
<polygon points="49.2,448.51 53.59,446.85 51.82,444.5 47.45,446.02" fill="#66b7f3"/>
<polygon points="117.3,447.83 121.46,447 119.2,444.02 115.08,444.64" fill="#69b9f3"/>
<polygon points="64.12,444.84 68.46,442.37 66.59,440.85 62.28,443.05" fill="#80c3f5"/>
<polygon points="87.71,434.57 91.99,433.63 89.93,430.59 85.67,432.25" fill="#c4e3fa"/>
<polygon points="34.16,450.18 38.62,448.84 36.95,446.2 32.51,447.5" fill="#5fb4f2"/>
<polygon points="44.78,450.05 49.2,448.51 47.45,446.02 43.05,447.46" fill="#62b6f2"/>
<polygon points="59.76,447.09 64.12,444.84 62.28,443.05 57.95,445.04" fill="#76bff4"/>
<polygon points="123.75,449.94 127.9,448.91 125.58,446.1 121.46,447" fill="#62b6f2"/>
<polygon points="100.4,441.44 104.6,441.55 102.49,437.52 98.3,437.31" fill="#9dd1f7"/>
<polygon points="106.74,445.41 110.93,445.12 108.76,441.53 104.6,441.55" fill="#83c5f5"/>
<polygon points="94.06,437.26 98.3,437.31 96.22,433.29 91.99,433.63" fill="#b7ddf9"/>
<polygon points="83.4,436.17 87.71,434.57 85.67,432.25 81.38,434.47" fill="#c1e2fa"/>
<polygon points="113.13,448.53 117.3,447.83 115.08,444.64 110.93,445.12" fill="#6fbcf3"/>
<polygon points="55.38,449.13 59.76,447.09 57.95,445.04 53.59,446.85" fill="#6fbcf3"/>
<polygon points="29.67,451.49 34.16,450.18 32.51,447.5 28.04,448.77" fill="#5fb4f2"/>
<polygon points="79.06,438.36 83.4,436.17 81.38,434.47 77.09,437.04" fill="#b7ddf9"/>
<polygon points="40.32,451.51 44.78,450.05 43.05,447.46 38.62,448.84" fill="#5fb4f2"/>
<polygon points="119.57,450.91 123.75,449.94 121.46,447 117.3,447.83" fill="#66b7f3"/>
<polygon points="74.71,440.95 79.06,438.36 77.09,437.04 72.78,439.73" fill="#aad7f8"/>
<polygon points="50.97,450.97 55.38,449.13 53.59,446.85 49.2,448.51" fill="#69b9f3"/>
<polygon points="89.77,437.58 94.06,437.26 91.99,433.63 87.71,434.57" fill="#c1e2fa"/>
<polygon points="102.52,445.51 106.74,445.41 104.6,441.55 100.4,441.44" fill="#8dc9f6"/>
<polygon points="96.15,441.27 100.4,441.44 98.3,437.31 94.06,437.26" fill="#aad7f8"/>
<polygon points="70.36,443.7 74.71,440.95 72.78,439.73 68.46,442.37" fill="#9ad0f7"/>
<polygon points="108.92,449.08 113.13,448.53 110.93,445.12 106.74,445.41" fill="#76bff4"/>
<polygon points="35.84,452.9 40.32,451.51 38.62,448.84 34.16,450.18" fill="#5fb4f2"/>
<polygon points="65.99,446.42 70.36,443.7 68.46,442.37 64.12,444.84" fill="#8dc9f6"/>
<polygon points="126.08,452.85 130.25,451.72 127.9,448.91 123.75,449.94" fill="#5fb4f2"/>
<polygon points="46.53,452.64 50.97,450.97 49.2,448.51 44.78,450.05" fill="#62b6f2"/>
<polygon points="115.36,451.8 119.57,450.91 117.3,447.83 113.13,448.53" fill="#69b9f3"/>
<polygon points="61.61,448.97 65.99,446.42 64.12,444.84 59.76,447.09" fill="#80c3f5"/>
<polygon points="85.44,438.47 89.77,437.58 87.71,434.57 83.4,436.17" fill="#c4e3fa"/>
<polygon points="31.32,454.25 35.84,452.9 34.16,450.18 29.67,451.49" fill="#5fb4f2"/>
<polygon points="57.2,451.28 61.61,448.97 59.76,447.09 55.38,449.13" fill="#76bff4"/>
<polygon points="42.05,454.2 46.53,452.64 44.78,450.05 40.32,451.51" fill="#62b6f2"/>
<polygon points="98.27,445.44 102.52,445.51 100.4,441.44 96.15,441.27" fill="#9ad0f7"/>
<polygon points="91.86,441.2 96.15,441.27 94.06,437.26 89.77,437.58" fill="#b7ddf9"/>
<polygon points="104.68,449.45 108.92,449.08 106.74,445.41 102.52,445.51" fill="#80c3f5"/>
<polygon points="121.87,453.94 126.08,452.85 123.75,449.94 119.57,450.91" fill="#62b6f2"/>
<polygon points="81.08,440.03 85.44,438.47 83.4,436.17 79.06,438.36" fill="#c1e2fa"/>
<polygon points="111.13,452.58 115.36,451.8 113.13,448.53 108.92,449.08" fill="#6fbcf3"/>
<polygon points="52.76,453.35 57.2,451.28 55.38,449.13 50.97,450.97" fill="#6cbaf3"/>
<polygon points="37.54,455.65 42.05,454.2 40.32,451.51 35.84,452.9" fill="#5fb4f2"/>
<polygon points="76.69,442.24 81.08,440.03 79.06,438.36 74.71,440.95" fill="#b7ddf9"/>
<polygon points="128.44,455.75 132.64,454.54 130.25,451.72 126.08,452.85" fill="#5fb4f2"/>
<polygon points="117.64,454.98 121.87,453.94 119.57,450.91 115.36,451.8" fill="#66b7f3"/>
<polygon points="72.29,444.9 76.69,442.24 74.71,440.95 70.36,443.7" fill="#aad7f8"/>
<polygon points="48.3,455.21 52.76,453.35 50.97,450.97 46.53,452.64" fill="#66b7f3"/>
<polygon points="87.52,441.47 91.86,441.2 89.77,437.58 85.44,438.47" fill="#c1e2fa"/>
<polygon points="100.4,449.6 104.68,449.45 102.52,445.51 98.27,445.44" fill="#8dc9f6"/>
<polygon points="93.96,445.27 98.27,445.44 96.15,441.27 91.86,441.2" fill="#aad7f8"/>
<polygon points="67.89,447.77 72.29,444.9 70.36,443.7 65.99,446.42" fill="#9ad0f7"/>
<polygon points="106.86,453.2 111.13,452.58 108.92,449.08 104.68,449.45" fill="#76bff4"/>
<polygon points="32.99,457.04 37.54,455.65 35.84,452.9 31.32,454.25" fill="#5fb4f2"/>
<polygon points="63.47,450.6 67.89,447.77 65.99,446.42 61.61,448.97" fill="#89c8f5"/>
<polygon points="124.21,456.93 128.44,455.75 126.08,452.85 121.87,453.94" fill="#62b6f2"/>
<polygon points="43.8,456.89 48.3,455.21 46.53,452.64 42.05,454.2" fill="#62b6f2"/>
<polygon points="113.37,455.93 117.64,454.98 115.36,451.8 111.13,452.58" fill="#69b9f3"/>
<polygon points="59.04,453.25 63.47,450.6 61.61,448.97 57.2,451.28" fill="#7cc2f4"/>
<polygon points="83.13,442.3 87.52,441.47 85.44,438.47 81.08,440.03" fill="#c4e3fa"/>
<polygon points="54.58,455.62 59.04,453.25 57.2,451.28 52.76,453.35" fill="#73bdf4"/>
<polygon points="39.26,458.43 43.8,456.89 42.05,454.2 37.54,455.65" fill="#5fb4f2"/>
<polygon points="96.08,449.54 100.4,449.6 98.27,445.44 93.96,445.27" fill="#9ad0f7"/>
<polygon points="102.56,453.62 106.86,453.2 104.68,449.45 100.4,449.6" fill="#80c3f5"/>
<polygon points="130.84,458.65 135.07,457.39 132.64,454.54 128.44,455.75" fill="#5fb4f2"/>
<polygon points="89.61,445.15 93.96,445.27 91.86,441.2 87.52,441.47" fill="#b7ddf9"/>
<polygon points="119.95,458.08 124.21,456.93 121.87,453.94 117.64,454.98" fill="#62b6f2"/>
<polygon points="78.71,443.85 83.13,442.3 81.08,440.03 76.69,442.24" fill="#c1e2fa"/>
<polygon points="109.08,456.77 113.37,455.93 111.13,452.58 106.86,453.2" fill="#6fbcf3"/>
<polygon points="50.09,457.72 54.58,455.62 52.76,453.35 48.3,455.21" fill="#69b9f3"/>
<polygon points="34.69,459.87 39.26,458.43 37.54,455.65 32.99,457.04" fill="#5fb4f2"/>
<polygon points="74.27,446.11 78.71,443.85 76.69,442.24 72.29,444.9" fill="#b7ddf9"/>
<polygon points="126.59,459.91 130.84,458.65 128.44,455.75 124.21,456.93" fill="#5fb4f2"/>
<polygon points="115.66,459.18 119.95,458.08 117.64,454.98 113.37,455.93" fill="#66b7f3"/>
<polygon points="45.57,459.58 50.09,457.72 48.3,455.21 43.8,456.89" fill="#66b7f3"/>
<polygon points="69.82,448.91 74.27,446.11 72.29,444.9 67.89,447.77" fill="#aad7f8"/>
<polygon points="85.21,445.31 89.61,445.15 87.52,441.47 83.13,442.3" fill="#c1e2fa"/>
<polygon points="98.23,453.81 102.56,453.62 100.4,449.6 96.08,449.54" fill="#8dc9f6"/>
<polygon points="91.72,449.32 96.08,449.54 93.96,445.27 89.61,445.15" fill="#aad7f8"/>
<polygon points="65.36,451.96 69.82,448.91 67.89,447.77 63.47,450.6" fill="#9ad0f7"/>
<polygon points="104.76,457.46 109.08,456.77 106.86,453.2 102.56,453.62" fill="#76bff4"/>
<polygon points="60.9,454.95 65.36,451.96 63.47,450.6 59.04,453.25" fill="#89c8f5"/>
<polygon points="41.01,461.24 45.57,459.58 43.8,456.89 39.26,458.43" fill="#5fb4f2"/>
<polygon points="122.3,461.15 126.59,459.91 124.21,456.93 119.95,458.08" fill="#62b6f2"/>
<polygon points="133.28,461.58 137.54,460.27 135.07,457.39 130.84,458.65" fill="#5fb4f2"/>
<polygon points="111.34,460.2 115.66,459.18 113.37,455.93 109.08,456.77" fill="#69b9f3"/>
<polygon points="56.42,457.7 60.9,454.95 59.04,453.25 54.58,455.62" fill="#79c0f4"/>
<polygon points="80.76,446.06 85.21,445.31 83.13,442.3 78.71,443.85" fill="#c4e3fa"/>
<polygon points="51.91,460.13 56.42,457.7 54.58,455.62 50.09,457.72" fill="#6fbcf3"/>
<polygon points="36.41,462.74 41.01,461.24 39.26,458.43 34.69,459.87" fill="#5fb4f2"/>
<polygon points="93.86,453.73 98.23,453.81 96.08,449.54 91.72,449.32" fill="#9ad0f7"/>
<polygon points="100.4,457.94 104.76,457.46 102.56,453.62 98.23,453.81" fill="#80c3f5"/>
<polygon points="129,462.89 133.28,461.58 130.84,458.65 126.59,459.91" fill="#5fb4f2"/>
<polygon points="117.98,462.35 122.3,461.15 119.95,458.08 115.66,459.18" fill="#62b6f2"/>
<polygon points="87.31,449.08 91.72,449.32 89.61,445.15 85.21,445.31" fill="#b7ddf9"/>
<polygon points="47.37,462.23 51.91,460.13 50.09,457.72 45.57,459.58" fill="#69b9f3"/>
<polygon points="106.99,461.12 111.34,460.2 109.08,456.77 104.76,457.46" fill="#6fbcf3"/>
<polygon points="76.28,447.6 80.76,446.06 78.71,443.85 74.27,446.11" fill="#c4e3fa"/>
<polygon points="71.78,449.99 76.28,447.6 74.27,446.11 69.82,448.91" fill="#badff9"/>
<polygon points="124.69,464.19 129,462.89 126.59,459.91 122.3,461.15" fill="#5fb4f2"/>
<polygon points="135.76,464.52 140.04,463.18 137.54,460.27 133.28,461.58" fill="#5fb4f2"/>
<polygon points="113.63,463.52 117.98,462.35 115.66,459.18 111.34,460.2" fill="#66b7f3"/>
<polygon points="42.79,464.05 47.37,462.23 45.57,459.58 41.01,461.24" fill="#62b6f2"/>
<polygon points="67.29,453.01 71.78,449.99 69.82,448.91 65.36,451.96" fill="#aad7f8"/>
<polygon points="96.01,458.16 100.4,457.94 98.23,453.81 93.86,453.73" fill="#89c8f5"/>
<polygon points="82.85,449.1 87.31,449.08 85.21,445.31 80.76,446.06" fill="#c4e3fa"/>
<polygon points="62.79,456.3 67.29,453.01 65.36,451.96 60.9,454.95" fill="#97cef7"/>
<polygon points="89.43,453.43 93.86,453.73 91.72,449.32 87.31,449.08" fill="#aad7f8"/>
<polygon points="102.61,461.88 106.99,461.12 104.76,457.46 100.4,457.94" fill="#76bff4"/>
<polygon points="58.28,459.49 62.79,456.3 60.9,454.95 56.42,457.7" fill="#86c6f5"/>
<polygon points="38.16,465.65 42.79,464.05 41.01,461.24 36.41,462.74" fill="#5fb4f2"/>
<polygon points="120.34,465.48 124.69,464.19 122.3,461.15 117.98,462.35" fill="#5fb4f2"/>
<polygon points="131.45,465.88 135.76,464.52 133.28,461.58 129,462.89" fill="#5fb4f2"/>
<polygon points="53.75,462.36 58.28,459.49 56.42,457.7 51.91,460.13" fill="#76bff4"/>
<polygon points="109.26,464.62 113.63,463.52 111.34,460.2 106.99,461.12" fill="#69b9f3"/>
<polygon points="49.19,464.81 53.75,462.36 51.91,460.13 47.37,462.23" fill="#6cbaf3"/>
<polygon points="78.34,449.73 82.85,449.1 80.76,446.06 76.28,447.6" fill="#c7e5fa"/>
<polygon points="98.19,462.43 102.61,461.88 100.4,457.94 96.01,458.16" fill="#7cc2f4"/>
<polygon points="91.58,458.06 96.01,458.16 93.86,453.73 89.43,453.43" fill="#9ad0f7"/>
<polygon points="115.97,466.75 120.34,465.48 117.98,462.35 113.63,463.52" fill="#62b6f2"/>
<polygon points="127.11,467.23 131.45,465.88 129,462.89 124.69,464.19" fill="#5fb4f2"/>
<polygon points="138.28,467.5 142.58,466.12 140.04,463.18 135.76,464.52" fill="#5fb4f2"/>
<polygon points="84.96,453.03 89.43,453.43 87.31,449.08 82.85,449.1" fill="#badff9"/>
<polygon points="44.58,466.87 49.19,464.81 47.37,462.23 42.79,464.05" fill="#66b7f3"/>
<polygon points="104.85,465.62 109.26,464.62 106.99,461.12 102.61,461.88" fill="#6cbaf3"/>
<polygon points="73.79,451.29 78.34,449.73 76.28,447.6 71.78,449.99" fill="#c7e5fa"/>
<polygon points="122.74,468.58 127.11,467.23 124.69,464.19 120.34,465.48" fill="#5fb4f2"/>
<polygon points="39.94,468.6 44.58,466.87 42.79,464.05 38.16,465.65" fill="#5fb4f2"/>
<polygon points="111.57,467.99 115.97,466.75 113.63,463.52 109.26,464.62" fill="#62b6f2"/>
<polygon points="69.24,453.87 73.79,451.29 71.78,449.99 67.29,453.01" fill="#badff9"/>
<polygon points="133.95,468.89 138.28,467.5 135.76,464.52 131.45,465.88" fill="#5fb4f2"/>
<polygon points="64.7,457.21 69.24,453.87 67.29,453.01 62.79,456.3" fill="#aad7f8"/>
<polygon points="93.74,462.68 98.19,462.43 96.01,458.16 91.58,458.06" fill="#89c8f5"/>
<polygon points="60.16,460.84 64.7,457.21 62.79,456.3 58.28,459.49" fill="#97cef7"/>
<polygon points="100.41,466.47 104.85,465.62 102.61,461.88 98.19,462.43" fill="#73bdf4"/>
<polygon points="87.09,457.62 91.58,458.06 89.43,453.43 84.96,453.03" fill="#aad7f8"/>
<polygon points="55.6,464.28 60.16,460.84 58.28,459.49 53.75,462.36" fill="#83c5f5"/>
<polygon points="80.43,452.82 84.96,453.03 82.85,449.1 78.34,449.73" fill="#c7e5fa"/>
<polygon points="51.03,467.24 55.6,464.28 53.75,462.36 49.19,464.81" fill="#73bdf4"/>
<polygon points="118.34,469.93 122.74,468.58 120.34,465.48 115.97,466.75" fill="#5fb4f2"/>
<polygon points="129.58,470.28 133.95,468.89 131.45,465.88 127.11,467.23" fill="#5fb4f2"/>
<polygon points="107.13,469.17 111.57,467.99 109.26,464.62 104.85,465.62" fill="#66b7f3"/>
<polygon points="140.84,470.51 145.16,469.11 142.58,466.12 138.28,467.5" fill="#5fb4f2"/>
<polygon points="46.41,469.64 51.03,467.24 49.19,464.81 44.58,466.87" fill="#69b9f3"/>
<polygon points="95.94,467.09 100.41,466.47 98.19,462.43 93.74,462.68" fill="#79c0f4"/>
<polygon points="75.85,453.27 80.43,452.82 78.34,449.73 73.79,451.29" fill="#cee8fb"/>
<polygon points="89.25,462.53 93.74,462.68 91.58,458.06 87.09,457.62" fill="#97cef7"/>
<polygon points="113.91,471.27 118.34,469.93 115.97,466.75 111.57,467.99" fill="#62b6f2"/>
<polygon points="125.19,471.68 129.58,470.28 127.11,467.23 122.74,468.58" fill="#5fb4f2"/>
<polygon points="41.74,471.57 46.41,469.64 44.58,466.87 39.94,468.6" fill="#62b6f2"/>
<polygon points="136.48,471.93 140.84,470.51 138.28,467.5 133.95,468.89" fill="#5fb4f2"/>
<polygon points="102.66,470.26 107.13,469.17 104.85,465.62 100.41,466.47" fill="#69b9f3"/>
<polygon points="82.55,456.97 87.09,457.62 84.96,453.03 80.43,452.82" fill="#badff9"/>
<polygon points="71.25,454.86 75.85,453.27 73.79,451.29 69.24,453.87" fill="#cbe7fb"/>
<polygon points="120.76,473.08 125.19,471.68 122.74,468.58 118.34,469.93" fill="#5fb4f2"/>
<polygon points="109.45,472.58 113.91,471.27 111.57,467.99 107.13,469.17" fill="#62b6f2"/>
<polygon points="132.09,473.35 136.48,471.93 133.95,468.89 129.58,470.28" fill="#5fb4f2"/>
<polygon points="66.64,457.75 71.25,454.86 69.24,453.87 64.7,457.21" fill="#bee0fa"/>
<polygon points="91.42,467.4 95.94,467.09 93.74,462.68 89.25,462.53" fill="#86c6f5"/>
<polygon points="57.47,465.69 62.05,461.6 60.16,460.84 55.6,464.28" fill="#93ccf6"/>
<polygon points="62.05,461.6 66.64,457.75 64.7,457.21 60.16,460.84" fill="#aad7f8"/>
<polygon points="52.88,469.36 57.47,465.69 55.6,464.28 51.03,467.24" fill="#7cc2f4"/>
<polygon points="98.16,471.22 102.66,470.26 100.41,466.47 95.94,467.09" fill="#6fbcf3"/>
<polygon points="84.7,461.94 89.25,462.53 87.09,457.62 82.55,456.97" fill="#aad7f8"/>
<polygon points="48.25,472.32 52.88,469.36 51.03,467.24 46.41,469.64" fill="#6cbaf3"/>
<polygon points="77.95,456.43 82.55,456.97 80.43,452.82 75.85,453.27" fill="#cbe7fb"/>
<polygon points="116.3,474.49 120.76,473.08 118.34,469.93 113.91,471.27" fill="#5fb4f2"/>
<polygon points="104.95,473.85 109.45,472.58 107.13,469.17 102.66,470.26" fill="#66b7f3"/>
<polygon points="127.67,474.78 132.09,473.35 129.58,470.28 125.19,471.68" fill="#5fb4f2"/>
<polygon points="43.57,474.56 48.25,472.32 46.41,469.64 41.74,471.57" fill="#62b6f2"/>
<polygon points="93.62,471.97 98.16,471.22 95.94,467.09 91.42,467.4" fill="#76bff4"/>
<polygon points="86.86,467.23 91.42,467.4 89.25,462.53 84.7,461.94" fill="#97cef7"/>
<polygon points="111.81,475.89 116.3,474.49 113.91,471.27 109.45,472.58" fill="#5fb4f2"/>
<polygon points="123.21,476.23 127.67,474.78 125.19,471.68 120.76,473.08" fill="#5fb4f2"/>
<polygon points="100.42,475.06 104.95,473.85 102.66,470.26 98.16,471.22" fill="#69b9f3"/>
<polygon points="73.3,456.62 77.95,456.43 75.85,453.27 71.25,454.86" fill="#d5ebfc"/>
<polygon points="80.09,460.93 84.7,461.94 82.55,456.97 77.95,456.43" fill="#bee0fa"/>
<polygon points="107.28,477.28 111.81,475.89 109.45,472.58 104.95,473.85" fill="#5fb4f2"/>
<polygon points="118.73,477.68 123.21,476.23 120.76,473.08 116.3,474.49" fill="#5fb4f2"/>
<polygon points="68.63,458.27 73.3,456.62 71.25,454.86 66.64,457.75" fill="#d1eafb"/>
<polygon points="89.05,472.37 93.62,471.97 91.42,467.4 86.86,467.23" fill="#83c5f5"/>
<polygon points="50.12,474.78 54.75,470.94 52.88,469.36 48.25,472.32" fill="#76bff4"/>
<polygon points="54.75,470.94 59.35,466.28 57.47,465.69 52.88,469.36" fill="#8dc9f6"/>
<polygon points="95.86,476.16 100.42,475.06 98.16,471.22 93.62,471.97" fill="#6cbaf3"/>
<polygon points="59.35,466.28 63.97,461.68 62.05,461.6 57.47,465.69" fill="#aad7f8"/>
<polygon points="63.97,461.68 68.63,458.27 66.64,457.75 62.05,461.6" fill="#c4e3fa"/>
<polygon points="45.42,477.54 50.12,474.78 48.25,472.32 43.57,474.56" fill="#66b7f3"/>
<polygon points="82.25,466.43 86.86,467.23 84.7,461.94 80.09,460.93" fill="#aad7f8"/>
<polygon points="114.21,479.14 118.73,477.68 116.3,474.49 111.81,475.89" fill="#5fb4f2"/>
<polygon points="102.72,478.66 107.28,477.28 104.95,473.85 100.42,475.06" fill="#62b6f2"/>
<polygon points="75.41,459.87 80.09,460.93 77.95,456.43 73.3,456.62" fill="#d1eafb"/>
<polygon points="91.26,477.07 95.86,476.16 93.62,471.97 89.05,472.37" fill="#73bdf4"/>
<polygon points="84.43,472.22 89.05,472.37 86.86,467.23 82.25,466.43" fill="#93ccf6"/>
<polygon points="109.65,480.6 114.21,479.14 111.81,475.89 107.28,477.28" fill="#5fb4f2"/>
<polygon points="98.13,479.99 102.72,478.66 100.42,475.06 95.86,476.16" fill="#66b7f3"/>
<polygon points="77.57,464.93 82.25,466.43 80.09,460.93 75.41,459.87" fill="#c4e3fa"/>
<polygon points="70.68,459.63 75.41,459.87 73.3,456.62 68.63,458.27" fill="#def0fc"/>
<polygon points="47.3,480.44 51.99,476.76 50.12,474.78 45.42,477.54" fill="#6cbaf3"/>
<polygon points="51.99,476.76 56.61,471.49 54.75,470.94 50.12,474.78" fill="#83c5f5"/>
<polygon points="86.62,477.65 91.26,477.07 89.05,472.37 84.43,472.22" fill="#7cc2f4"/>
<polygon points="105.07,482.07 109.65,480.6 107.28,477.28 102.72,478.66" fill="#5fb4f2"/>
<polygon points="93.51,481.26 98.13,479.99 95.86,476.16 91.26,477.07" fill="#69b9f3"/>
<polygon points="56.61,471.49 61.24,465.74 59.35,466.28 54.75,470.94" fill="#a7d6f8"/>
<polygon points="65.93,461.42 70.68,459.63 68.63,458.27 63.97,461.68" fill="#def0fc"/>
<polygon points="79.75,471.23 84.43,472.22 82.25,466.43 77.57,464.93" fill="#aad7f8"/>
<polygon points="61.24,465.74 65.93,461.42 63.97,461.68 59.35,466.28" fill="#c7e5fa"/>
<polygon points="100.45,483.54 105.07,482.07 102.72,478.66 98.13,479.99" fill="#5fb4f2"/>
<polygon points="88.85,482.39 93.51,481.26 91.26,477.07 86.62,477.65" fill="#6cbaf3"/>
<polygon points="81.94,477.63 86.62,477.65 84.43,472.22 79.75,471.23" fill="#8dc9f6"/>
<polygon points="72.8,463.06 77.57,464.93 75.41,459.87 70.68,459.63" fill="#def0fc"/>
<polygon points="95.79,485.01 100.45,483.54 98.13,479.99 93.51,481.26" fill="#62b6f2"/>
<polygon points="49.2,483.11 53.85,477.62 51.99,476.76 47.3,480.44" fill="#76bff4"/>
<polygon points="84.14,483.27 88.85,482.39 86.62,477.65 81.94,477.63" fill="#76bff4"/>
<polygon points="74.98,469.07 79.75,471.23 77.57,464.93 72.8,463.06" fill="#c7e5fa"/>
<polygon points="53.85,477.62 58.45,470.21 56.61,471.49 51.99,476.76" fill="#9dd1f7"/>
<polygon points="91.1,486.45 95.79,485.01 93.51,481.26 88.85,482.39" fill="#62b6f2"/>
<polygon points="67.96,462.08 72.8,463.06 70.68,459.63 65.93,461.42" fill="#eff7fe"/>
<polygon points="77.19,476.56 81.94,477.63 79.75,471.23 74.98,469.07" fill="#a7d6f8"/>
<polygon points="58.45,470.21 63.15,464.17 61.24,465.74 56.61,471.49" fill="#cbe7fb"/>
<polygon points="86.38,487.85 91.1,486.45 88.85,482.39 84.14,483.27" fill="#66b7f3"/>
<polygon points="63.15,464.17 67.96,462.08 65.93,461.42 61.24,465.74" fill="#ebf6fd"/>
<polygon points="79.4,483.61 84.14,483.27 81.94,477.63 77.19,476.56" fill="#83c5f5"/>
<polygon points="70.1,465.85 74.98,469.07 72.8,463.06 67.96,462.08" fill="#ebf6fd"/>
<polygon points="51.09,485.09 55.64,475.87 53.85,477.62 49.2,483.11" fill="#8dc9f6"/>
<polygon points="81.61,489.13 86.38,487.85 84.14,483.27 79.4,483.61" fill="#6cbaf3"/>
<polygon points="72.33,473.61 77.19,476.56 74.98,469.07 70.1,465.85" fill="#cbe7fb"/>
<polygon points="74.58,482.82 79.4,483.61 77.19,476.56 72.33,473.61" fill="#9dd1f7"/>
<polygon points="76.81,490.14 81.61,489.13 79.4,483.61 74.58,482.82" fill="#76bff4"/>
<polygon points="55.64,475.87 60.26,466.37 58.45,470.21 53.85,477.62" fill="#cbe7fb"/>
<polygon points="65.14,463.45 70.1,465.85 67.96,462.08 63.15,464.17" fill="#ffffff"/>
<polygon points="60.26,466.37 65.14,463.45 63.15,464.17 58.45,470.21" fill="#fcfdff"/>
<polygon points="71.95,490.42 76.81,490.14 74.58,482.82 69.64,479.36" fill="#8dc9f6"/>
<polygon points="67.31,468.08 72.33,473.61 70.1,465.85 65.14,463.45" fill="#fcfdff"/>
<polygon points="69.64,479.36 74.58,482.82 72.33,473.61 67.31,468.08" fill="#cbe7fb"/>
<polygon points="52.91,484.65 57.26,468.19 55.64,475.87 51.09,485.09" fill="#c1e2fa"/>
<polygon points="62.15,462.56 67.31,468.08 65.14,463.45 60.26,466.37" fill="#ffffff"/>
<polygon points="66.96,488.24 71.95,490.42 69.64,479.36 64.42,469.93" fill="#c1e2fa"/>
<polygon points="57.26,468.19 62.15,462.56 60.26,466.37 55.64,475.87" fill="#ffffff"/>
<polygon points="64.42,469.93 69.64,479.36 67.31,468.08 62.15,462.56" fill="#ffffff"/>
<polygon points="54.31,473.43 58.81,455.66 57.26,468.19 52.91,484.65" fill="#ffffff"/>
<polygon points="58.81,455.66 64.42,469.93 62.15,462.56 57.26,468.19" fill="#ffffff"/>
<polygon points="61.54,475.22 66.96,488.24 64.42,469.93 58.81,455.66" fill="#ffffff"/>
<polygon points="54.21,422.23 61.54,475.22 58.81,455.66 54.31,473.43" fill="#ffffff"/>
</g>
<g stroke="#000" stroke-width="0.75" fill="none" stroke-linecap="round">
<line x1="57.26" y1="497.66" x2="145.16" y2="469.11"/>
<line x1="57.26" y1="497.66" x2="23.3" y2="440.86"/>
<line x1="57.26" y1="497.66" x2="53.87" y2="413.65"/>
<line x1="145.16" y1="469.11" x2="153.19" y2="387.91"/>
<line x1="23.3" y1="440.86" x2="16.45" y2="362.91"/>
<line x1="53.87" y1="413.65" x2="153.19" y2="387.91"/>
<line x1="53.87" y1="413.65" x2="16.45" y2="362.91"/>
<line x1="153.19" y1="387.91" x2="104.22" y2="344.14"/>
<line x1="16.45" y1="362.91" x2="104.22" y2="344.14"/>
</g></g>
<g transform="rotate(0.02 275 259)" fill="#1c1c1c" stroke="#1c1c1c" stroke-width="0.2" font-family="Liberation Sans, Arial, sans-serif"><text x="15.6" y="167.31" font-size="8.4" text-anchor="middle">0</text>
<text x="13.6" y="146.91" font-size="8.4" text-anchor="middle">2</text>
<text x="11.3" y="125.51" font-size="8.4" text-anchor="middle">4</text>
<text x="9" y="102.61" font-size="8.4" text-anchor="middle">6</text>
<text x="22.6" y="183.31" font-size="8.4" text-anchor="middle">0.8</text>
<text x="29.9" y="195.11" font-size="8.4" text-anchor="middle">0.6</text>
<text x="36.6" y="208.11" font-size="8.4" text-anchor="middle">0.4</text>
<text x="45.2" y="222.01" font-size="8.4" text-anchor="middle">0.2</text>
<text x="76.1" y="229.41" font-size="8.4" text-anchor="middle">0.2</text>
<text x="95.2" y="222.91" font-size="8.4" text-anchor="middle">0.4</text>
<text x="114.3" y="216.81" font-size="8.4" text-anchor="middle">0.6</text>
<text x="133.4" y="209.91" font-size="8.4" text-anchor="middle">0.8</text>
<text x="24.8" y="210.22" font-size="9.0" text-anchor="middle">u<tspan font-size="6.75" dy="2.25">2</tspan></text>
<text x="109.9" y="231.92" font-size="9.0" text-anchor="middle">u<tspan font-size="6.75" dy="2.25">1</tspan></text>
<text x="15.6" y="442.31" font-size="8.4" text-anchor="middle">0</text>
<text x="13.2" y="419.01" font-size="8.4" text-anchor="middle">5</text>
<text x="10.9" y="395.01" font-size="8.4" text-anchor="middle">10</text>
<text x="8.4" y="368.31" font-size="8.4" text-anchor="middle">15</text>
<text x="22.6" y="458.61" font-size="8.4" text-anchor="middle">0.8</text>
<text x="29.9" y="470.41" font-size="8.4" text-anchor="middle">0.6</text>
<text x="36.6" y="483.41" font-size="8.4" text-anchor="middle">0.4</text>
<text x="45.2" y="497.31" font-size="8.4" text-anchor="middle">0.2</text>
<text x="76.1" y="504.71" font-size="8.4" text-anchor="middle">0.2</text>
<text x="95.2" y="498.21" font-size="8.4" text-anchor="middle">0.4</text>
<text x="114.3" y="492.11" font-size="8.4" text-anchor="middle">0.6</text>
<text x="133.4" y="485.21" font-size="8.4" text-anchor="middle">0.8</text>
<text x="24.8" y="485.52" font-size="9.0" text-anchor="middle">u<tspan font-size="6.75" dy="2.25">2</tspan></text>
<text x="109.9" y="507.22" font-size="9.0" text-anchor="middle">u<tspan font-size="6.75" dy="2.25">1</tspan></text></g>
<g id="c1"><g fill="none" stroke="#151515" stroke-width="0.8" stroke-linejoin="round">
<path d="M416.81 100.15 L415.82 100.24 L414.82 100.34 L413.83 100.47 L412.84 100.61 L411.86 100.78 L410.87 100.96 L409.89 101.15 L408.91 101.35 L407.94 101.58 L406.97 101.82 L406 102.08 L405.04 102.35 L404.08 102.64 L403.13 102.95 L402.18 103.26 L401.24 103.6 L400.3 103.95 L399.37 104.32 L398.45 104.69 L397.53 105.09 L396.62 105.5 L395.72 105.94 L394.82 106.38 L393.93 106.84 L393.05 107.31 L392.18 107.81 L391.32 108.31 L390.47 108.84 L389.63 109.37 L388.8 109.94 L387.98 110.51 L387.18 111.11 L386.39 111.72 L385.61 112.35 L384.86 113.01 L384.13 113.69 L383.41 114.39 L382.72 115.11 L382.05 115.85 L381.41 116.62 L380.81 117.42 L380.23 118.24 L379.7 119.08 L379.22 119.96 L378.78 120.86 L378.4 121.78 L378.09 122.73 L377.85 123.7 L377.68 124.69 L377.6 125.68 L377.6 126.68 L377.68 127.68 L377.84 128.66 L378.08 129.63 L378.41 130.58 L378.81 131.49 L379.29 132.37 L379.8 133.23 L380.37 134.05 L380.99 134.84 L381.63 135.6 L382.32 136.33 L383.03 137.03 L383.76 137.71 L384.53 138.35 L385.3 138.99 L386.1 139.59 L386.91 140.18 L387.74 140.73 L388.57 141.28 L389.42 141.81 L390.28 142.33 L391.14 142.83 L392.02 143.32 L392.9 143.79 L393.78 144.26 L394.67 144.71 L395.57 145.15 L396.47 145.58 L397.38 146 L398.29 146.41 L399.21 146.81 L400.13 147.21 L401.05 147.61 L401.97 148 L402.89 148.37 L403.82 148.74 L404.75 149.11 L405.68 149.47 L406.62 149.83 L407.55 150.19 L408.49 150.53 L409.43 150.88 L410.37 151.23 L411.31 151.57 L412.24 151.91 L413.19 152.25 L414.13 152.58 L415.07 152.91 L416.01 153.26 L416.96 153.58 L417.9 153.91 L418.84 154.25 L419.78 154.59 L420.73 154.91 L421.67 155.25 L422.61 155.58 L423.56 155.91 L424.49 156.26 L425.44 156.6 L426.38 156.93 L427.32 157.28 L428.25 157.63 L429.19 157.97 L430.13 158.33 L431.06 158.68 L432 159.02 L432.93 159.39 L433.86 159.77 L434.79 160.12 L435.72 160.5 L436.65 160.87 L437.58 161.24 L438.5 161.63 L439.42 162.02 L440.34 162.41 L441.26 162.81 L442.18 163.2 L443.09 163.6 L444 164.02 L444.91 164.43 L445.82 164.86 L446.72 165.28 L447.63 165.71 L448.53 166.14 L449.43 166.57 L450.33 167.01 L451.23 167.45 L452.11 167.91 L453 168.37 L453.89 168.84 L454.77 169.31 L455.65 169.78 L456.53 170.26 L457.41 170.74 L458.28 171.23 L459.15 171.71 L460.02 172.21 L460.89 172.7 L461.76 173.2 L462.62 173.71 L463.48 174.21 L464.35 174.72 L465.21 175.23 L466.07 175.74 L466.93 176.25 L467.79 176.76 L468.64 177.27 L469.5 177.78 L470.36 178.29 L471.23 178.8 L472.09 179.31 L472.95 179.81 L473.82 180.31 L474.69 180.8 L475.56 181.29 L476.44 181.77 L477.32 182.24 L478.21 182.7 L479.1 183.16 L480 183.6 L480.89 184.04 L481.8 184.46 L482.71 184.88 L483.63 185.27 L484.55 185.65 L485.49 186.01 L486.43 186.36 L487.37 186.68 L488.32 187 L489.28 187.27 L490.24 187.54 L491.22 187.77 L492.19 188 L493.17 188.19 L494.16 188.35 L495.15 188.49 L496.14 188.6 L497.14 188.68 L497.82 188.72 L498.82 188.77 L499.82 188.77 L500.82 188.77 L501.82 188.71 L502.81 188.64 L503.81 188.54 L504.8 188.41 L505.79 188.26 L506.77 188.07 L507.75 187.86 L508.72 187.61 L509.68 187.36 L510.64 187.05 L511.58 186.74 L512.52 186.39 L513.45 186.02 L514.36 185.61 L515.26 185.18 L516.15 184.72 L517.03 184.24 L517.89 183.72 L518.73 183.19 L519.55 182.61 L520.35 182.01 L521.12 181.38 L521.85 180.7 L522.55 179.99 L523.22 179.24 L523.81 178.43 L524.35 177.59 L524.81 176.71 L525.17 175.78 L525.43 174.81 L525.57 173.82 L525.59 172.82 L525.46 171.83 L525.22 170.86 L524.88 169.92 L524.44 169.02 L523.92 168.17 L523.35 167.35 L522.74 166.56 L522.06 165.82 L521.37 165.1 L520.66 164.4 L519.9 163.74 L519.15 163.09 L518.36 162.47 L517.57 161.87 L516.76 161.27 L515.95 160.69 L515.13 160.11 L514.3 159.55 L513.47 159 L512.63 158.45 L511.79 157.91 L510.94 157.38 L510.1 156.85 L509.24 156.33 L508.39 155.81 L507.54 155.29 L506.68 154.77 L505.83 154.25 L504.97 153.73 L504.11 153.22 L503.26 152.7 L502.4 152.18 L501.55 151.66 L500.7 151.14 L499.85 150.61 L499 150.08 L498.15 149.55 L497.31 149.01 L496.47 148.47 L495.63 147.93 L494.79 147.38 L493.96 146.83 L493.13 146.27 L492.3 145.71 L491.47 145.15 L490.65 144.58 L489.84 144 L489.03 143.4 L488.23 142.81 L487.43 142.21 L486.63 141.61 L485.84 141 L485.04 140.39 L484.26 139.77 L483.48 139.15 L482.71 138.51 L481.94 137.86 L481.18 137.22 L480.42 136.57 L479.65 135.93 L478.91 135.26 L478.17 134.59 L477.43 133.91 L476.69 133.24 L475.95 132.57 L475.23 131.87 L474.51 131.18 L473.8 130.48 L473.07 129.79 L472.36 129.09 L471.66 128.37 L470.94 127.68 L470.25 126.96 L469.55 126.24 L468.84 125.54 L468.14 124.82 L467.44 124.11 L466.75 123.39 L466.04 122.68 L465.33 121.97 L464.64 121.25 L463.93 120.55 L463.22 119.84 L462.51 119.15 L461.79 118.45 L461.07 117.75 L460.34 117.07 L459.61 116.39 L458.87 115.71 L458.13 115.04 L457.38 114.38 L456.61 113.74 L455.85 113.1 L455.07 112.46 L454.29 111.84 L453.5 111.22 L452.7 110.62 L451.89 110.04 L451.08 109.46 L450.25 108.9 L449.41 108.35 L448.56 107.82 L447.71 107.3 L446.85 106.8 L445.98 106.3 L445.1 105.83 L444.21 105.37 L443.31 104.93 L442.41 104.5 L441.49 104.1 L440.57 103.71 L439.64 103.35 L438.7 102.99 L437.76 102.66 L436.81 102.34 L435.86 102.05 L434.89 101.78 L433.93 101.51 L432.96 101.28 L431.98 101.06 L431 100.87 L430.02 100.69 L429.03 100.53"/>
<path d="M503.77 181.5 L504.74 181.25 L505.69 180.96 L506.63 180.63 L507.56 180.25 L508.46 179.81 L509.35 179.35 L510.19 178.82 L511.01 178.25 L511.78 177.61 L512.5 176.92 L513.14 176.15 L513.69 175.32 L514.14 174.43 L514.44 173.48 L514.6 172.49 L514.6 171.5 L514.45 170.51 L514.18 169.55 L513.78 168.63 L513.27 167.77 L512.72 166.93 L512.12 166.14 L511.47 165.38 L510.79 164.64 L510.08 163.95 L509.35 163.26 L508.6 162.6 L507.83 161.96 L507.06 161.32 L506.26 160.72 L505.47 160.1 L504.66 159.52 L503.85 158.93 L503.04 158.36 L502.22 157.78 L501.4 157.21 L500.57 156.64 L499.75 156.07 L498.92 155.52 L498.1 154.95 L497.26 154.4 L496.44 153.83 L495.6 153.28 L494.78 152.72 L493.95 152.16 L493.12 151.6 L492.29 151.04 L491.46 150.48 L490.64 149.92 L489.81 149.35 L488.99 148.78 L488.18 148.2 L487.36 147.62 L486.55 147.04 L485.74 146.44 L484.93 145.86 L484.13 145.26 L483.32 144.68 L482.52 144.08 L481.72 143.48 L480.92 142.87 L480.14 142.25 L479.35 141.64 L478.57 141.01 L477.79 140.39 L477.01 139.76 L476.22 139.14 L475.46 138.5 L474.69 137.86 L473.93 137.21 L473.17 136.56 L472.4 135.92 L471.65 135.26 L470.89 134.61 L470.15 133.94 L469.4 133.28 L468.65 132.61 L467.91 131.94 L467.17 131.28 L466.44 130.59 L465.69 129.92 L464.95 129.25 L464.22 128.57 L463.48 127.9 L462.75 127.21 L462.01 126.55 L461.27 125.87 L460.53 125.19 L459.79 124.52 L459.05 123.85 L458.3 123.19 L457.55 122.53 L456.79 121.87 L456.04 121.22 L455.27 120.57 L454.5 119.93 L453.72 119.31 L452.94 118.69 L452.15 118.07 L451.36 117.46 L450.56 116.86 L449.75 116.28 L448.93 115.71 L448.1 115.15 L447.26 114.61 L446.41 114.07 L445.56 113.56 L444.69 113.05 L443.82 112.57 L442.94 112.09 L442.04 111.64 L441.15 111.2 L440.23 110.79 L439.32 110.39 L438.39 110.02 L437.46 109.65 L436.52 109.32 L435.57 108.99 L434.61 108.71 L433.65 108.43 L432.69 108.18 L431.71 107.94 L430.74 107.73 L429.75 107.55 L428.77 107.39 L427.78 107.25 L426.78 107.12 L425.79 107.03 L424.79 106.95 L423.79 106.9 L422.79 106.87 L421.79 106.86 L420.79 106.88 L419.8 106.91 L418.8 106.98 L417.8 107.05 L416.81 107.16 L415.81 107.29 L414.82 107.43 L413.84 107.59 L412.86 107.78 L411.88 107.99 L410.9 108.22 L409.94 108.47 L408.97 108.74 L408.02 109.04 L407.07 109.35 L406.13 109.68 L405.19 110.04 L404.27 110.41 L403.35 110.82 L402.44 111.24 L401.55 111.68 L400.66 112.14 L399.79 112.63 L398.93 113.14 L398.08 113.67 L397.26 114.24 L396.44 114.82 L395.66 115.44 L394.89 116.07 L394.14 116.74 L393.43 117.44 L392.75 118.17 L392.09 118.93 L391.5 119.74 L390.95 120.57 L390.45 121.43 L390.01 122.33 L389.65 123.26 L389.36 124.22 L389.17 125.2 L389.08 126.2 L389.09 127.2 L389.21 128.19 L389.43 129.16 L389.74 130.11 L390.12 131.04 L390.57 131.93 L391.09 132.78 L391.68 133.59 L392.3 134.37 L392.97 135.11 L393.66 135.83 L394.4 136.51 L395.15 137.17 L395.92 137.81 L396.72 138.41 L397.52 139 L398.36 139.56 L399.19 140.11 L400.04 140.64 L400.89 141.16 L401.76 141.65 L402.63 142.14 L403.52 142.61 L404.4 143.08 L405.29 143.53 L406.19 143.97 L407.09 144.41 L408 144.83 L408.91 145.24 L409.82 145.65 L410.73 146.06 L411.65 146.46 L412.57 146.86 L413.49 147.25 L414.41 147.63 L415.34 148.01 L416.26 148.39 L417.19 148.77 L418.11 149.14 L419.05 149.51 L419.98 149.88 L420.91 150.24 L421.84 150.61 L422.77 150.98 L423.7 151.34 L424.63 151.7 L425.56 152.07 L426.49 152.44 L427.42 152.8 L428.35 153.17 L429.28 153.54 L430.21 153.9 L431.14 154.27 L432.07 154.65 L433 155.02 L433.92 155.4 L434.85 155.77 L435.78 156.15 L436.7 156.53 L437.62 156.92 L438.54 157.31 L439.46 157.7 L440.38 158.09 L441.3 158.48 L442.22 158.88 L443.14 159.28 L444.05 159.69 L444.96 160.1 L445.87 160.51 L446.78 160.92 L447.69 161.34 L448.6 161.76 L449.51 162.17 L450.41 162.6 L451.31 163.04 L452.21 163.48 L453.11 163.92 L454.01 164.35 L454.9 164.8 L455.8 165.24 L456.69 165.69 L457.59 166.14 L458.48 166.59 L459.37 167.05 L460.26 167.5 L461.15 167.97 L462.03 168.44 L462.91 168.91 L463.79 169.38 L464.68 169.85 L465.56 170.32 L466.44 170.79 L467.32 171.27 L468.21 171.73 L469.08 172.21 L469.97 172.68 L470.85 173.15 L471.74 173.61 L472.62 174.08 L473.51 174.53 L474.4 174.99 L475.29 175.45 L476.18 175.9 L477.08 176.34 L477.97 176.79 L478.88 177.21 L479.78 177.64 L480.7 178.03 L481.62 178.44 L482.54 178.82 L483.47 179.18 L484.4 179.55 L485.34 179.89 L486.29 180.2 L487.24 180.51 L488.2 180.8 L488.44 180.88"/>
<path d="M419.04 113.31 L418.05 113.43 L417.07 113.6 L416.08 113.77 L415.11 113.99 L414.13 114.23 L413.17 114.51 L412.22 114.81 L411.27 115.13 L410.34 115.49 L409.42 115.88 L408.52 116.31 L407.62 116.75 L406.76 117.26 L405.9 117.77 L405.08 118.34 L404.27 118.93 L403.51 119.58 L402.78 120.26 L402.09 120.98 L401.46 121.76 L400.9 122.59 L400.4 123.45 L399.99 124.36 L399.67 125.31 L399.47 126.29 L399.41 127.29 L399.46 128.29 L399.64 129.27 L399.93 130.22 L400.32 131.14 L400.78 132.03 L401.31 132.88 L401.9 133.68 L402.55 134.45 L403.23 135.18 L403.94 135.88 L404.69 136.54 L405.45 137.19 L406.24 137.81 L407.04 138.4 L407.86 138.98 L408.7 139.52 L409.53 140.07 L410.39 140.59 L411.25 141.1 L412.12 141.59 L412.99 142.09 L413.87 142.56 L414.75 143.03 L415.64 143.48 L416.54 143.93 L417.43 144.38 L418.33 144.81 L419.24 145.24 L420.14 145.66 L421.05 146.08 L421.96 146.5 L422.87 146.92 L423.78 147.33 L424.69 147.74 L425.6 148.15 L426.52 148.55 L427.44 148.95 L428.35 149.35 L429.27 149.75 L430.18 150.16 L431.1 150.56 L432.01 150.96 L432.93 151.35 L433.85 151.74 L434.77 152.15 L435.68 152.55 L436.6 152.96 L437.51 153.36 L438.43 153.76 L439.34 154.17 L440.26 154.57 L441.17 154.97 L442.08 155.39 L442.99 155.8 L443.9 156.22 L444.81 156.64 L445.72 157.05 L446.63 157.46 L447.54 157.88 L448.45 158.3 L449.35 158.73 L450.26 159.15 L451.16 159.59 L452.06 160.01 L452.96 160.45 L453.87 160.87 L454.77 161.3 L455.67 161.74 L456.57 162.17 L457.47 162.61 L458.37 163.06 L459.26 163.5 L460.16 163.95 L461.06 164.38 L461.95 164.83 L462.85 165.27 L463.74 165.72 L464.64 166.15 L465.54 166.6 L466.44 167.04 L467.33 167.48 L468.23 167.93 L469.12 168.37 L470.02 168.81 L470.92 169.25 L471.83 169.67 L472.73 170.11 L473.64 170.52 L474.55 170.94 L475.46 171.35 L476.37 171.76 L477.28 172.16 L478.2 172.56 L479.13 172.93 L480.06 173.31 L480.99 173.66 L481.93 174 L482.87 174.35 L483.82 174.65 L484.78 174.95 L485.74 175.23 L486.7 175.5 L487.68 175.72 L488.66 175.92 L489.38 176.05 L490.37 176.23 L491.36 176.35 L492.36 176.44 L493.36 176.5 L494.35 176.51 L495.35 176.49 L496.35 176.4 L497.34 176.29 L498.32 176.09 L499.29 175.85 L500.24 175.53 L501.17 175.16 L502.05 174.68 L502.88 174.13 L503.61 173.45 L504.27 172.71 L504.77 171.84 L505.06 170.88 L505.15 169.89 L505.04 168.9 L504.77 167.94 L504.37 167.03 L503.9 166.15 L503.36 165.31 L502.74 164.53 L502.09 163.76 L501.42 163.03 L500.71 162.32 L499.99 161.63 L499.25 160.96 L498.5 160.29 L497.73 159.65 L496.96 159.02 L496.17 158.4 L495.39 157.78 L494.6 157.16 L493.8 156.56 L493.01 155.95 L492.2 155.36 L491.4 154.76 L490.59 154.18 L489.78 153.59 L488.97 153 L488.16 152.41 L487.36 151.82 L486.55 151.23 L485.75 150.64 L484.93 150.06 L484.13 149.46 L483.32 148.88 L482.51 148.29 L481.7 147.7 L480.9 147.1 L480.1 146.5 L479.3 145.9 L478.5 145.3 L477.7 144.7 L476.91 144.09 L476.11 143.49 L475.31 142.88 L474.52 142.28 L473.73 141.66 L472.95 141.04 L472.16 140.42 L471.38 139.8 L470.59 139.18 L469.81 138.56 L469.02 137.94 L468.25 137.3 L467.48 136.67 L466.71 136.04 L465.93 135.4 L465.16 134.77 L464.38 134.14 L463.61 133.51 L462.84 132.86 L462.07 132.23 L461.3 131.59 L460.53 130.96 L459.75 130.32 L458.98 129.69 L458.21 129.05 L457.43 128.42 L456.65 127.79 L455.87 127.17 L455.09 126.55 L454.3 125.94 L453.51 125.32 L452.71 124.72 L451.91 124.11 L451.11 123.52 L450.3 122.94 L449.48 122.36 L448.65 121.8 L447.82 121.24 L446.98 120.7 L446.14 120.16 L445.28 119.65 L444.42 119.14 L443.55 118.65 L442.67 118.17 L441.78 117.72 L440.89 117.27 L439.97 116.85 L439.07 116.44 L438.14 116.07 L437.21 115.7 L436.27 115.36 L435.32 115.03 L434.37 114.74 L433.41 114.46 L432.44 114.2 L431.47 113.98 L431.22 113.93"/>
<path d="M490 169.84 L490.98 169.63 L491.93 169.33 L492.79 168.82 L493.54 168.17 L494.06 167.34 L494.26 166.36 L494.18 165.37 L493.87 164.42 L493.43 163.52 L492.9 162.67 L492.31 161.87 L491.69 161.09 L491.02 160.34 L490.32 159.63 L489.62 158.91 L488.89 158.23 L488.15 157.56 L487.41 156.89 L486.64 156.25 L485.88 155.6 L485.11 154.97 L484.33 154.34 L483.55 153.71 L482.77 153.09 L481.98 152.47 L481.19 151.86 L480.39 151.26 L479.59 150.65 L478.8 150.05 L478 149.44 L477.21 148.84 L476.41 148.24 L475.61 147.63 L474.81 147.04 L474 146.44 L473.2 145.85 L472.4 145.25 L471.6 144.65 L470.79 144.05 L469.99 143.45 L469.19 142.86 L468.39 142.26 L467.59 141.66 L466.78 141.07 L465.98 140.48 L465.17 139.88 L464.37 139.29 L463.57 138.69 L462.76 138.1 L461.96 137.5 L461.15 136.91 L460.35 136.32 L459.53 135.73 L458.72 135.15 L457.91 134.57 L457.1 133.99 L456.28 133.41 L455.46 132.83 L454.65 132.26 L453.82 131.69 L453 131.12 L452.17 130.57 L451.34 130.01 L450.49 129.47 L449.65 128.93 L448.8 128.41 L447.95 127.88 L447.09 127.38 L446.23 126.87 L445.35 126.39 L444.47 125.9 L443.58 125.45 L442.69 124.99 L441.79 124.57 L440.88 124.15 L439.96 123.76 L439.04 123.37 L438.1 123.02 L437.16 122.67 L436.21 122.37 L435.25 122.08 L434.29 121.81 L433.32 121.57 L432.34 121.36 L431.36 121.19 L430.37 121.03 L429.38 120.92 L428.38 120.83 L427.38 120.78 L426.38 120.76 L425.38 120.79 L424.39 120.85 L423.39 120.94 L422.4 121.1 L421.42 121.27 L420.45 121.52 L419.49 121.79 L418.55 122.13 L417.63 122.53 L416.74 122.98 L415.88 123.49 L415.07 124.07 L414.32 124.74 L413.66 125.48 L413.07 126.29 L412.64 127.19 L412.36 128.15 L412.25 129.14 L412.31 130.13 L412.53 131.11 L412.87 132.04 L413.31 132.94 L413.84 133.79 L414.45 134.58 L415.09 135.34 L415.78 136.07 L416.5 136.76 L417.26 137.42 L418.03 138.06 L418.82 138.67 L419.62 139.26 L420.43 139.84 L421.26 140.4 L422.1 140.95 L422.95 141.48 L423.8 142.01 L424.66 142.52 L425.52 143.02 L426.39 143.51 L427.26 144 L428.14 144.48 L429.02 144.96 L429.9 145.43 L430.79 145.89 L431.68 146.35 L432.57 146.81 L433.46 147.26 L434.35 147.71 L435.24 148.16 L436.14 148.62 L437.03 149.06 L437.93 149.51 L438.82 149.95 L439.72 150.39 L440.62 150.83 L441.52 151.27 L442.42 151.7 L443.32 152.14 L444.22 152.58 L445.12 153.02 L446.01 153.46 L446.91 153.89 L447.81 154.33 L448.71 154.77 L449.61 155.2 L450.51 155.64 L451.41 156.07 L452.31 156.5 L453.22 156.94 L454.11 157.38 L455.01 157.81 L455.91 158.25 L456.81 158.69 L457.72 159.12 L458.62 159.55 L459.52 159.98 L460.42 160.41 L461.33 160.84 L462.23 161.26 L463.13 161.69 L464.04 162.12 L464.94 162.54 L465.85 162.97 L466.76 163.38 L467.67 163.79 L468.59 164.19 L469.5 164.6 L470.42 165 L471.34 165.39 L472.26 165.79 L473.18 166.17 L474.11 166.53 L475.04 166.9 L475.98 167.26 L476.92 167.59 L477.86 167.93 L478.81 168.23 L479.77 168.53 L480.73 168.81"/>
<path d="M426.33 127.1 L425.38 127.42 L424.49 127.87 L423.64 128.39 L422.92 129.08 L422.35 129.9 L421.98 130.81 L421.86 131.8 L421.97 132.79 L422.26 133.75 L422.7 134.64 L423.25 135.48 L423.85 136.28 L424.5 137.03 L425.2 137.75 L425.93 138.43 L426.68 139.09 L427.46 139.73 L428.25 140.34 L429.05 140.94 L429.86 141.51 L430.68 142.09 L431.52 142.63 L432.36 143.18 L433.2 143.71 L434.05 144.24 L434.91 144.75 L435.77 145.27 L436.64 145.77 L437.5 146.27 L438.37 146.76 L439.25 147.25 L440.12 147.73 L441 148.21 L441.88 148.69 L442.76 149.16 L443.64 149.63 L444.53 150.1 L445.41 150.56 L446.3 151.02 L447.19 151.48 L448.08 151.94 L448.97 152.39 L449.86 152.84 L450.75 153.29 L451.64 153.75 L452.54 154.19 L453.43 154.64 L454.33 155.09 L455.22 155.53 L456.12 155.97 L457.02 156.4 L457.92 156.84 L458.83 157.27 L459.73 157.7 L460.63 158.12 L461.54 158.55 L462.45 158.97 L463.35 159.39 L464.27 159.8 L465.18 160.2 L466.1 160.61 L467.01 161 L467.94 161.39 L468.86 161.78 L469.79 162.15 L470.71 162.52 L471.65 162.87 L472.59 163.22 L473.53 163.55 L474.48 163.87 L475.43 164.17 L476.39 164.45 L477.36 164.71 L478.33 164.94 L479.31 165.15 L480.3 165.31 L481.19 165.43 L481.94 165.48 L482.94 165.5 L483.93 165.41 L484.91 165.22 L485.77 164.71 L486.49 164.06 L486.8 163.13 L486.68 162.14 L486.33 161.21 L485.83 160.34 L485.25 159.53 L484.63 158.74 L483.98 157.99 L483.28 157.27 L482.57 156.56 L481.85 155.87 L481.11 155.2 L480.36 154.54 L479.6 153.89 L478.84 153.24 L478.07 152.61 L477.29 151.98 L476.51 151.35 L475.72 150.74 L474.93 150.13 L474.13 149.52 L473.34 148.91 L472.54 148.31 L471.74 147.71 L470.94 147.12 L470.13 146.52 L469.32 145.93 L468.52 145.34 L467.7 144.76 L466.89 144.18 L466.07 143.6 L465.26 143.02 L464.44 142.44 L463.63 141.87 L462.81 141.29 L461.99 140.72 L461.16 140.16 L460.34 139.59 L459.5 139.04 L458.68 138.48 L457.84 137.93 L457.01 137.37 L456.17 136.83 L455.33 136.29 L454.48 135.76 L453.63 135.23 L452.78 134.71 L451.92 134.19 L451.06 133.68 L450.2 133.17 L449.33 132.68 L448.45 132.2 L447.57 131.73 L446.69 131.26 L445.79 130.81 L444.89 130.38 L443.99 129.95 L443.07 129.55 L442.15 129.16 L441.22 128.79 L440.28 128.45 L439.34 128.11 L438.63 127.89"/>
<path d="M479.19 161.39 L479.98 160.89 L480.4 160.01 L480.25 159.03 L479.82 158.12 L479.26 157.3 L478.64 156.51 L477.98 155.76 L477.29 155.04 L476.57 154.34 L475.84 153.65 L475.1 152.99 L474.34 152.34 L473.57 151.69 L472.8 151.07 L472.02 150.44 L471.23 149.83 L470.43 149.22 L469.64 148.61 L468.83 148.02 L468.03 147.42 L467.22 146.84 L466.4 146.26 L465.59 145.68 L464.77 145.11 L463.94 144.54 L463.11 143.98 L462.29 143.42 L461.45 142.87 L460.62 142.32 L459.78 141.78 L458.93 141.24 L458.09 140.71 L457.24 140.18 L456.38 139.66 L455.52 139.15 L454.66 138.64 L453.79 138.14 L452.93 137.65 L452.05 137.17 L451.17 136.7 L450.28 136.24 L449.38 135.79 L448.49 135.35 L447.58 134.93 L446.67 134.52 L445.75 134.13 L444.82 133.76 L443.88 133.4 L442.94 133.07 L441.99 132.77 L441.03 132.49 L440.06 132.25 L439.08 132.03 L438.09 131.88 L437.1 131.75 L436.1 131.69 L435.11 131.71 L434.11 131.79 L433.15 132.04 L432.19 132.34 L431.39 132.9 L430.72 133.65 L430.45 134.6 L430.54 135.59 L430.87 136.53 L431.35 137.4 L431.93 138.21 L432.56 138.99 L433.26 139.7 L433.99 140.39 L434.73 141.06 L435.51 141.68 L436.29 142.31 L437.09 142.91 L437.9 143.49 L438.72 144.07 L439.55 144.62 L440.39 145.18 L441.23 145.71 L442.08 146.24 L442.93 146.76 L443.79 147.28 L444.65 147.79 L445.51 148.29 L446.38 148.79 L447.25 149.28 L448.13 149.77 L449 150.25 L449.88 150.73 L450.76 151.2 L451.64 151.67 L452.53 152.13 L453.42 152.59 L454.31 153.05 L455.2 153.5 L456.09 153.95 L456.99 154.39 L457.89 154.83 L458.79 155.27 L459.69 155.7 L460.6 156.12 L461.5 156.54 L462.42 156.95 L463.33 157.36 L464.25 157.76 L465.16 158.15 L466.09 158.54 L467.02 158.91 L467.95 159.27 L468.88 159.62 L469.83 159.96 L470.06 160.04"/>
<path d="M458.17 150.44 L459.07 150.86 L459.99 151.26 L460.92 151.63 L461.53 151.85 L462.48 152.15 L463.45 152.41 L464.34 152.15 L465.06 151.6 L464.47 150.8 L463.78 150.07 L463.04 149.4 L462.28 148.76 L461.47 148.16 L460.65 147.6 L460.02 147.19"/>
<path d="M452.14 143.47 L451.21 143.4 L450.35 143.91 L449.92 144.5 L450.55 145.27 L450.9 145.63"/>
</g>
<g transform="rotate(0.02 275 259)" fill="#222" font-family="Liberation Sans, Arial, sans-serif"><text x="422.9" y="102.73" font-size="5.4" text-anchor="middle" transform="rotate(3 422.9 100.8)">0.01</text>
<text x="496" y="182.83" font-size="5.4" text-anchor="middle" transform="rotate(-3 496 180.9)">0.025</text>
<text x="425" y="115.93" font-size="5.4" text-anchor="middle" transform="rotate(3 425 114)">0.05</text>
<text x="485.3" y="171.03" font-size="5.4" text-anchor="middle" transform="rotate(-5 485.3 169.1)">0.1</text>
<text x="432.4" y="129.73" font-size="5.4" text-anchor="middle" transform="rotate(3 432.4 127.8)">0.15</text>
<text x="474.7" y="161.93" font-size="5.4" text-anchor="middle" transform="rotate(-10 474.7 160)">0.2</text>
<text x="455.3" y="148.33" font-size="5.4" text-anchor="middle" transform="rotate(25 455.3 146.4)">0.3</text></g>
<g stroke="#555" stroke-width="0.75" fill="none">
<rect x="356.33" y="87.21" width="188.44" height="113.08"/>
<line x1="363.31" y1="200.29" x2="363.31" y2="205.79"/>
<line x1="356.33" y1="196.1" x2="350.53" y2="196.1"/>
<line x1="392.39" y1="200.29" x2="392.39" y2="205.79"/>
<line x1="356.33" y1="178.65" x2="350.53" y2="178.65"/>
<line x1="421.47" y1="200.29" x2="421.47" y2="205.79"/>
<line x1="356.33" y1="161.2" x2="350.53" y2="161.2"/>
<line x1="450.55" y1="200.29" x2="450.55" y2="205.79"/>
<line x1="356.33" y1="143.75" x2="350.53" y2="143.75"/>
<line x1="479.63" y1="200.29" x2="479.63" y2="205.79"/>
<line x1="356.33" y1="126.3" x2="350.53" y2="126.3"/>
<line x1="508.71" y1="200.29" x2="508.71" y2="205.79"/>
<line x1="356.33" y1="108.85" x2="350.53" y2="108.85"/>
<line x1="537.79" y1="200.29" x2="537.79" y2="205.79"/>
<line x1="356.33" y1="91.4" x2="350.53" y2="91.4"/>
</g>
<g transform="rotate(0.02 275 259)" fill="#1c1c1c" stroke="#1c1c1c" stroke-width="0.2" font-family="Liberation Sans, Arial, sans-serif"><text x="363.31" y="220.21" font-size="9.0" text-anchor="middle">-3</text>
<text x="340.03" y="199.32" font-size="9.0" text-anchor="middle" transform="rotate(-90 340.03 196.1)">-3</text>
<text x="392.39" y="220.21" font-size="9.0" text-anchor="middle">-2</text>
<text x="340.03" y="181.87" font-size="9.0" text-anchor="middle" transform="rotate(-90 340.03 178.65)">-2</text>
<text x="421.47" y="220.21" font-size="9.0" text-anchor="middle">-1</text>
<text x="340.03" y="164.42" font-size="9.0" text-anchor="middle" transform="rotate(-90 340.03 161.2)">-1</text>
<text x="450.55" y="220.21" font-size="9.0" text-anchor="middle">0</text>
<text x="340.03" y="146.97" font-size="9.0" text-anchor="middle" transform="rotate(-90 340.03 143.75)">0</text>
<text x="479.63" y="220.21" font-size="9.0" text-anchor="middle">1</text>
<text x="340.03" y="129.52" font-size="9.0" text-anchor="middle" transform="rotate(-90 340.03 126.3)">1</text>
<text x="508.71" y="220.21" font-size="9.0" text-anchor="middle">2</text>
<text x="340.03" y="112.07" font-size="9.0" text-anchor="middle" transform="rotate(-90 340.03 108.85)">2</text>
<text x="537.79" y="220.21" font-size="9.0" text-anchor="middle">3</text>
<text x="340.03" y="94.62" font-size="9.0" text-anchor="middle" transform="rotate(-90 340.03 91.4)">3</text>
<text x="450.55" y="239.78" font-size="9.2" text-anchor="middle">z<tspan font-size="6.9" dy="2.3">1</tspan></text>
<g transform="rotate(-90 316.33 142.95)"><text x="316.33" y="146.17" font-size="9.0" text-anchor="middle">z<tspan font-size="6.75" dy="2.25">2</tspan></text></g></g></g>
<g id="c2"><g fill="none" stroke="#151515" stroke-width="0.8" stroke-linejoin="round">
<path d="M503.2 374.8 L502.2 374.89 L501.21 374.99 L500.22 375.1 L499.22 375.22 L498.23 375.35 L497.24 375.5 L496.26 375.67 L495.27 375.84 L494.29 376.03 L493.31 376.21 L492.33 376.4 L491.35 376.61 L490.37 376.83 L489.4 377.06 L488.42 377.28 L487.45 377.52 L486.48 377.77 L485.52 378.04 L484.55 378.3 L483.59 378.56 L482.63 378.84 L481.67 379.14 L480.72 379.42 L479.76 379.71 L478.81 380.02 L477.86 380.33 L476.91 380.65 L475.96 380.97 L475.02 381.3 L474.08 381.63 L473.14 381.98 L472.2 382.34 L471.27 382.68 L470.33 383.04 L469.41 383.42 L468.48 383.79 L467.55 384.17 L466.63 384.55 L465.71 384.94 L464.79 385.34 L463.87 385.74 L462.97 386.16 L462.06 386.58 L461.15 387 L460.24 387.42 L459.34 387.85 L458.44 388.29 L457.55 388.74 L456.66 389.18 L455.77 389.65 L454.88 390.11 L454 390.58 L453.12 391.06 L452.25 391.54 L451.37 392.03 L450.51 392.53 L449.64 393.03 L448.78 393.53 L447.92 394.04 L447.06 394.56 L446.21 395.08 L445.36 395.61 L444.51 396.14 L443.67 396.68 L442.83 397.22 L442 397.77 L441.16 398.33 L440.34 398.89 L439.51 399.45 L438.69 400.03 L437.87 400.61 L437.06 401.19 L436.26 401.78 L435.46 402.38 L434.66 402.98 L433.86 403.58 L433.06 404.19 L432.27 404.8 L431.48 405.41 L430.7 406.03 L429.92 406.66 L429.15 407.3 L428.38 407.94 L427.6 408.57 L426.84 409.21 L426.07 409.85 L425.32 410.51 L424.56 411.17 L423.8 411.82 L423.05 412.48 L422.3 413.13 L421.57 413.82 L420.82 414.48 L420.08 415.15 L419.34 415.83 L418.6 416.5 L417.88 417.19 L417.14 417.87 L416.41 418.55 L415.68 419.23 L414.97 419.93 L414.25 420.63 L413.52 421.31 L412.8 422.01 L412.08 422.69 L411.37 423.4 L410.65 424.1 L409.92 424.78 L409.23 425.5 L408.51 426.19 L407.78 426.89 L407.08 427.59 L406.36 428.29 L405.67 429.01 L404.94 429.7 L404.23 430.4 L403.52 431.11 L402.81 431.81 L402.11 432.52 L401.38 433.2 L400.69 433.93 L399.98 434.63 L399.24 435.31 L398.55 436.03 L397.83 436.72 L397.12 437.43 L396.41 438.13 L395.69 438.82 L395 439.55 L394.27 440.23 L393.55 440.92 L392.83 441.61 L392.12 442.32 L391.41 443.02 L390.67 443.69 L389.97 444.41 L389.24 445.1 L388.52 445.78 L387.8 446.48 L387.07 447.16 L386.37 447.88 L385.63 448.55 L384.9 449.23 L384.18 449.92 L383.45 450.61 L382.74 451.31 L381.99 451.98 L381.27 452.66 L380.54 453.35 L379.81 454.04 L379.09 454.73 L378.34 455.38 L377.62 456.09 L376.89 456.77 L376.16 457.44 L375.43 458.13 L374.68 458.8 L373.98 459.51 L373.24 460.18 L372.5 460.85 L371.78 461.54 L371.05 462.23 L370.35 462.94 L369.61 463.61 L368.89 464.31 L368.17 465 L367.47 465.71 L366.78 466.44 L366.07 467.14 L365.41 467.89 L364.78 468.67 L364.2 469.48 L363.77 470.34 L364.41 470.73 L365.3 471.08 L366.29 470.9 L367.26 470.68 L368.22 470.41 L369.18 470.13 L370.13 469.82 L371.07 469.49 L372.02 469.16 L372.96 468.83 L373.9 468.49 L374.84 468.13 L375.78 467.8 L376.71 467.43 L377.64 467.07 L378.58 466.73 L379.52 466.38 L380.45 466.01 L381.38 465.65 L382.31 465.28 L383.24 464.92 L384.18 464.58 L385.11 464.21 L386.04 463.84 L386.97 463.48 L387.91 463.12 L388.84 462.76 L389.78 462.42 L390.7 462.03 L391.63 461.67 L392.57 461.32 L393.5 460.95 L394.43 460.6 L395.37 460.25 L396.29 459.86 L397.23 459.51 L398.17 459.17 L399.1 458.8 L400.04 458.45 L400.97 458.09 L401.89 457.71 L402.83 457.37 L403.78 457.04 L404.71 456.67 L405.64 456.32 L406.58 455.96 L407.51 455.6 L408.45 455.26 L409.39 454.92 L410.32 454.55 L411.25 454.2 L412.2 453.86 L413.13 453.51 L414.07 453.16 L415.01 452.81 L415.94 452.45 L416.88 452.11 L417.82 451.78 L418.76 451.42 L419.69 451.08 L420.63 450.73 L421.57 450.39 L422.51 450.04 L423.45 449.71 L424.38 449.34 L425.32 449 L426.27 448.67 L427.2 448.33 L428.14 447.98 L429.08 447.64 L430.02 447.29 L430.96 446.94 L431.9 446.62 L432.84 446.26 L433.77 445.9 L434.71 445.57 L435.66 445.24 L436.59 444.88 L437.53 444.54 L438.47 444.19 L439.4 443.83 L440.35 443.5 L441.28 443.16 L442.21 442.79 L443.15 442.45 L444.09 442.11 L445.03 441.75 L445.97 441.41 L446.9 441.05 L447.83 440.68 L448.77 440.34 L449.71 440 L450.64 439.63 L451.57 439.27 L452.5 438.91 L453.43 438.54 L454.37 438.19 L455.3 437.83 L456.23 437.45 L457.16 437.08 L458.09 436.71 L459.01 436.34 L459.95 435.97 L460.87 435.59 L461.79 435.21 L462.72 434.83 L463.64 434.44 L464.56 434.06 L465.49 433.68 L466.41 433.28 L467.33 432.89 L468.24 432.48 L469.15 432.07 L470.07 431.67 L470.99 431.27 L471.9 430.86 L472.81 430.45 L473.71 430.03 L474.62 429.61 L475.52 429.17 L476.43 428.74 L477.33 428.31 L478.23 427.87 L479.13 427.44 L480.02 426.99 L480.92 426.54 L481.81 426.09 L482.7 425.63 L483.58 425.17 L484.46 424.69 L485.34 424.22 L486.22 423.74 L487.09 423.25 L487.96 422.76 L488.83 422.26 L489.7 421.76 L490.56 421.26 L491.42 420.74 L492.27 420.23 L493.13 419.7 L493.98 419.18 L494.82 418.64 L495.66 418.1 L496.5 417.56 L497.33 417 L498.17 416.45 L498.99 415.88 L499.81 415.31 L500.62 414.72 L501.43 414.14 L502.23 413.54 L503.03 412.94 L503.82 412.32 L504.6 411.7 L505.39 411.09 L506.16 410.45 L506.94 409.82 L507.69 409.16 L508.45 408.51 L509.2 407.85 L509.94 407.17 L510.67 406.5 L511.39 405.8 L512.11 405.1 L512.82 404.4 L513.51 403.68 L514.2 402.95 L514.86 402.21 L515.55 401.48 L516.19 400.71 L516.82 399.94 L517.47 399.17 L518.07 398.37 L518.66 397.57 L519.26 396.76 L519.81 395.94 L520.35 395.09 L520.89 394.25 L521.38 393.38 L521.84 392.49 L522.29 391.6 L522.71 390.69 L523.09 389.76 L523.4 388.82 L523.67 387.85 L523.9 386.88 L524.07 385.9 L524.15 384.9 L524.15 383.9 L524.04 382.91 L523.82 381.94 L523.48 380.99 L523.04 380.1 L522.47 379.28 L521.8 378.54 L521.05 377.88 L520.24 377.29 L519.37 376.8 L518.48 376.36 L517.55 375.99 L516.6 375.67 L515.63 375.43 L515.39 375.37"/>
<path d="M484.83 383.33 L483.86 383.57 L482.89 383.82 L481.93 384.09 L480.97 384.37 L480.01 384.64 L479.05 384.93 L478.1 385.23 L477.15 385.55 L476.19 385.85 L475.25 386.18 L474.31 386.51 L473.36 386.84 L472.42 387.18 L471.49 387.54 L470.56 387.9 L469.62 388.26 L468.7 388.64 L467.77 389.01 L466.85 389.4 L465.93 389.79 L465.01 390.19 L464.1 390.6 L463.19 391.01 L462.28 391.43 L461.37 391.85 L460.47 392.28 L459.57 392.72 L458.67 393.16 L457.78 393.62 L456.89 394.07 L456.01 394.54 L455.13 395.01 L454.25 395.49 L453.37 395.97 L452.5 396.46 L451.63 396.94 L450.76 397.44 L449.9 397.95 L449.04 398.46 L448.18 398.97 L447.33 399.5 L446.48 400.02 L445.63 400.56 L444.79 401.1 L443.95 401.64 L443.12 402.19 L442.28 402.74 L441.45 403.3 L440.62 403.86 L439.8 404.43 L438.98 405 L438.16 405.58 L437.35 406.16 L436.54 406.75 L435.74 407.35 L434.94 407.95 L434.15 408.56 L433.36 409.17 L432.56 409.77 L431.77 410.38 L430.98 410.99 L430.2 411.62 L429.42 412.25 L428.65 412.89 L427.87 413.52 L427.1 414.15 L426.33 414.79 L425.56 415.43 L424.8 416.08 L424.04 416.73 L423.29 417.39 L422.52 418.03 L421.77 418.69 L421.01 419.34 L420.27 420.01 L419.53 420.68 L418.77 421.33 L418.03 422 L417.28 422.67 L416.55 423.35 L415.81 424.02 L415.06 424.68 L414.33 425.36 L413.59 426.04 L412.86 426.73 L412.12 427.4 L411.38 428.06 L410.65 428.75 L409.92 429.43 L409.2 430.12 L408.45 430.79 L407.72 431.47 L406.99 432.16 L406.26 432.84 L405.54 433.53 L404.79 434.19 L404.08 434.89 L403.35 435.58 L402.61 436.25 L401.88 436.94 L401.14 437.61 L400.43 438.32 L399.69 438.99 L398.95 439.66 L398.23 440.35 L397.5 441.03 L396.79 441.73 L396.04 442.39 L395.3 443.07 L394.56 443.75 L393.84 444.44 L393.12 445.13 L392.36 445.79 L391.64 446.48 L390.9 447.15 L390.18 447.84 L389.44 448.52 L388.69 449.18 L387.98 449.88 L387.24 450.55 L386.51 451.23 L385.77 451.91 L385.03 452.59 L384.31 453.28 L383.58 453.96 L382.85 454.64 L382.11 455.32 L381.4 456.01 L380.68 456.71 L379.95 457.39 L379.24 458.1 L378.52 458.79 L377.82 459.51 L377.13 460.23 L376.44 460.95 L375.78 461.7 L375.17 462.5 L374.66 463.35 L374.37 463.98 L375.22 464.49 L376.15 464.66 L377.13 464.49 L378.1 464.26 L379.07 464 L380.02 463.7 L380.98 463.4 L381.92 463.06 L382.87 462.74 L383.81 462.41 L384.75 462.07 L385.68 461.72 L386.62 461.37 L387.56 461.01 L388.49 460.66 L389.43 460.32 L390.36 459.95 L391.29 459.59 L392.23 459.23 L393.16 458.87 L394.09 458.5 L395.03 458.16 L395.95 457.78 L396.89 457.42 L397.82 457.05 L398.75 456.69 L399.68 456.33 L400.62 455.97 L401.54 455.59 L402.47 455.23 L403.41 454.87 L404.34 454.5 L405.27 454.15 L406.2 453.78 L407.12 453.4 L408.06 453.04 L409 452.69 L409.92 452.32 L410.86 451.97 L411.79 451.59 L412.71 451.21 L413.65 450.87 L414.59 450.52 L415.51 450.15 L416.45 449.79 L417.38 449.42 L418.31 449.05 L419.25 448.71 L420.18 448.35 L421.11 447.98 L422.04 447.62 L422.97 447.25 L423.91 446.89 L424.84 446.55 L425.77 446.18 L426.7 445.81 L427.64 445.45 L428.57 445.09 L429.5 444.73 L430.44 444.38 L431.36 444 L432.29 443.64 L433.23 443.28 L434.16 442.92 L435.09 442.56 L436.02 442.19 L436.95 441.81 L437.88 441.45 L438.82 441.1 L439.74 440.72 L440.68 440.36 L441.6 439.99 L442.53 439.6 L443.46 439.24 L444.39 438.88 L445.32 438.5 L446.25 438.13 L447.17 437.74 L448.09 437.36 L449.02 436.99 L449.95 436.62 L450.87 436.23 L451.8 435.85 L452.71 435.46 L453.64 435.07 L454.56 434.68 L455.48 434.29 L456.4 433.91 L457.32 433.51 L458.23 433.1 L459.15 432.7 L460.06 432.29 L460.98 431.89 L461.89 431.49 L462.8 431.07 L463.72 430.67 L464.62 430.24 L465.53 429.82 L466.43 429.39 L467.33 428.96 L468.24 428.53 L469.14 428.1 L470.04 427.67 L470.94 427.23 L471.83 426.78 L472.73 426.33 L473.62 425.88 L474.51 425.42 L475.39 424.95 L476.27 424.48 L477.15 424.01 L478.03 423.53 L478.91 423.05 L479.78 422.56 L480.65 422.07 L481.52 421.58 L482.39 421.08 L483.25 420.57 L484.11 420.06 L484.97 419.54 L485.82 419.01 L486.66 418.49 L487.51 417.95 L488.35 417.4 L489.18 416.85 L490.02 416.3 L490.84 415.74 L491.67 415.18 L492.49 414.6 L493.3 414.02 L494.11 413.43 L494.91 412.84 L495.71 412.23 L496.49 411.61 L497.27 410.98 L498.05 410.36 L498.83 409.72 L499.59 409.08 L500.34 408.42 L501.09 407.76 L501.83 407.08 L502.55 406.4 L503.29 405.71 L503.98 405 L504.68 404.28 L505.38 403.57 L506.04 402.82 L506.71 402.08 L507.36 401.32 L507.99 400.53 L508.61 399.75 L509.2 398.94 L509.77 398.12 L510.33 397.29 L510.84 396.44 L511.32 395.56 L511.79 394.68 L512.21 393.77 L512.58 392.84 L512.89 391.89 L513.12 390.92 L513.28 389.93 L513.34 388.93 L513.28 387.94 L513.08 386.96 L512.73 386.03 L512.24 385.17 L511.62 384.37 L510.87 383.72 L510.05 383.14 L509.17 382.68 L508.26 382.27 L507.31 381.97 L506.34 381.71 L505.36 381.51 L504.38 381.35 L503.38 381.25 L502.38 381.16 L501.38 381.13 L500.39 381.11 L500.14 381.11"/>
<path d="M468.59 392.74 L467.67 393.11 L466.74 393.5 L465.82 393.89 L464.9 394.28 L463.99 394.68 L463.08 395.09 L462.16 395.5 L461.26 395.93 L460.36 396.36 L459.46 396.8 L458.56 397.25 L457.67 397.7 L456.78 398.16 L455.9 398.62 L455.01 399.09 L454.13 399.57 L453.26 400.04 L452.38 400.54 L451.51 401.03 L450.65 401.53 L449.78 402.03 L448.93 402.55 L448.07 403.06 L447.22 403.59 L446.37 404.11 L445.52 404.65 L444.68 405.19 L443.85 405.74 L443.01 406.29 L442.18 406.84 L441.36 407.41 L440.53 407.97 L439.71 408.54 L438.88 409.11 L438.07 409.68 L437.25 410.27 L436.44 410.85 L435.64 411.44 L434.83 412.04 L434.03 412.64 L433.24 413.25 L432.45 413.86 L431.66 414.47 L430.86 415.07 L430.07 415.69 L429.28 416.31 L428.51 416.94 L427.73 417.57 L426.96 418.21 L426.18 418.83 L425.4 419.46 L424.63 420.1 L423.86 420.73 L423.1 421.38 L422.34 422.03 L421.58 422.68 L420.81 423.32 L420.05 423.97 L419.29 424.62 L418.54 425.28 L417.79 425.95 L417.03 426.59 L416.28 427.25 L415.52 427.9 L414.78 428.58 L414.03 429.24 L413.28 429.89 L412.53 430.56 L411.78 431.21 L411.04 431.9 L410.29 432.56 L409.54 433.22 L408.8 433.88 L408.05 434.55 L407.32 435.23 L406.57 435.89 L405.83 436.56 L405.08 437.22 L404.34 437.9 L403.61 438.58 L402.86 439.24 L402.12 439.92 L401.37 440.57 L400.64 441.26 L399.9 441.93 L399.15 442.6 L398.42 443.27 L397.67 443.94 L396.95 444.63 L396.2 445.3 L395.46 445.97 L394.72 446.64 L393.99 447.32 L393.27 448.01 L392.53 448.68 L391.79 449.36 L391.06 450.04 L390.34 450.74 L389.62 451.44 L388.89 452.12 L388.19 452.83 L387.47 453.53 L386.78 454.25 L386.1 454.98 L385.42 455.72 L384.78 456.48 L384.22 457.31 L383.88 458.23 L384 458.8 L384.92 459.04 L385.92 458.97 L386.9 458.78 L387.87 458.54 L388.83 458.26 L389.79 457.96 L390.73 457.64 L391.68 457.32 L392.62 456.99 L393.56 456.65 L394.5 456.31 L395.44 455.97 L396.38 455.61 L397.31 455.26 L398.25 454.91 L399.18 454.54 L400.12 454.19 L401.05 453.82 L401.97 453.45 L402.91 453.09 L403.84 452.74 L404.77 452.36 L405.7 452 L406.63 451.63 L407.56 451.25 L408.49 450.9 L409.42 450.53 L410.35 450.15 L411.28 449.79 L412.2 449.41 L413.13 449.04 L414.07 448.68 L414.99 448.31 L415.92 447.93 L416.85 447.56 L417.77 447.18 L418.7 446.81 L419.64 446.45 L420.56 446.07 L421.49 445.7 L422.41 445.32 L423.34 444.94 L424.27 444.58 L425.2 444.21 L426.12 443.83 L427.05 443.46 L427.98 443.07 L428.9 442.69 L429.83 442.33 L430.76 441.96 L431.69 441.57 L432.61 441.19 L433.53 440.81 L434.46 440.43 L435.39 440.06 L436.31 439.68 L437.24 439.3 L438.16 438.91 L439.07 438.51 L440 438.14 L440.93 437.76 L441.85 437.37 L442.77 436.99 L443.69 436.59 L444.61 436.19 L445.53 435.8 L446.45 435.41 L447.37 435.02 L448.29 434.62 L449.2 434.21 L450.11 433.81 L451.03 433.4 L451.94 432.99 L452.86 432.59 L453.77 432.18 L454.68 431.78 L455.59 431.36 L456.5 430.94 L457.4 430.51 L458.31 430.08 L459.21 429.66 L460.12 429.24 L461.02 428.81 L461.92 428.38 L462.82 427.93 L463.72 427.5 L464.61 427.05 L465.51 426.6 L466.39 426.14 L467.28 425.68 L468.17 425.21 L469.05 424.75 L469.94 424.28 L470.82 423.81 L471.7 423.33 L472.58 422.85 L473.45 422.37 L474.32 421.87 L475.19 421.38 L476.05 420.87 L476.91 420.37 L477.77 419.85 L478.63 419.33 L479.47 418.8 L480.32 418.28 L481.16 417.73 L482 417.19 L482.84 416.64 L483.67 416.08 L484.49 415.51 L485.31 414.94 L486.13 414.36 L486.94 413.78 L487.75 413.19 L488.54 412.59 L489.34 411.98 L490.12 411.35 L490.9 410.73 L491.66 410.09 L492.43 409.44 L493.19 408.79 L493.93 408.12 L494.67 407.44 L495.38 406.75 L496.1 406.05 L496.8 405.34 L497.49 404.61 L498.16 403.87 L498.81 403.11 L499.45 402.35 L500.07 401.56 L500.65 400.75 L501.22 399.93 L501.76 399.09 L502.26 398.22 L502.7 397.32 L503.1 396.41 L503.43 395.46 L503.68 394.49 L503.81 393.5 L503.81 392.51 L503.64 391.53 L503.29 390.6 L502.77 389.74 L502.05 389.05 L501.25 388.46 L500.36 388 L499.44 387.62 L498.48 387.36 L497.5 387.14 L496.51 387 L495.52 386.89 L494.52 386.85 L493.52 386.83 L492.52 386.85 L491.52 386.9 L490.52 386.97 L489.53 387.07 L488.53 387.19 L487.54 387.33 L486.56 387.49 L485.57 387.67 L484.59 387.85 L483.61 388.05 L482.63 388.27 L481.66 388.51 L480.69 388.75 L480.21 388.88"/>
<path d="M407 449.05 L407.94 448.7 L408.87 448.34 L409.81 447.98 L410.74 447.62 L411.67 447.25 L412.6 446.88 L413.53 446.51 L414.45 446.14 L415.38 445.76 L416.31 445.39 L417.23 445.01 L418.16 444.63 L419.09 444.25 L420.01 443.87 L420.94 443.5 L421.86 443.12 L422.78 442.73 L423.71 442.34 L424.63 441.96 L425.55 441.57 L426.48 441.19 L427.4 440.8 L428.32 440.41 L429.24 440.02 L430.16 439.62 L431.08 439.23 L432 438.85 L432.92 438.45 L433.84 438.06 L434.75 437.66 L435.67 437.26 L436.59 436.86 L437.5 436.46 L438.42 436.06 L439.34 435.66 L440.25 435.25 L441.16 434.85 L442.07 434.43 L442.99 434.02 L443.9 433.61 L444.81 433.2 L445.72 432.79 L446.63 432.37 L447.54 431.95 L448.44 431.52 L449.34 431.09 L450.25 430.66 L451.15 430.23 L452.05 429.8 L452.95 429.37 L453.85 428.93 L454.75 428.5 L455.65 428.05 L456.54 427.6 L457.43 427.15 L458.32 426.7 L459.21 426.23 L460.1 425.77 L460.98 425.3 L461.86 424.83 L462.74 424.36 L463.62 423.88 L464.5 423.4 L465.38 422.92 L466.25 422.43 L467.11 421.93 L467.98 421.43 L468.84 420.92 L469.7 420.41 L470.56 419.89 L471.41 419.37 L472.25 418.83 L473.1 418.3 L473.94 417.75 L474.77 417.21 L475.6 416.64 L476.43 416.08 L477.25 415.51 L478.06 414.93 L478.87 414.35 L479.67 413.75 L480.48 413.15 L481.26 412.53 L482.04 411.91 L482.81 411.26 L483.57 410.62 L484.33 409.97 L485.07 409.29 L485.8 408.61 L486.51 407.9 L487.21 407.19 L487.89 406.46 L488.55 405.71 L489.19 404.94 L489.8 404.15 L490.38 403.34 L490.93 402.5 L491.41 401.62 L491.82 400.71 L492.16 399.77 L492.36 398.8 L492.4 397.8 L492.21 396.83 L491.76 395.95 L491.06 395.24 L490.25 394.66 L489.31 394.32 L488.37 394 L487.38 393.85 L486.38 393.74 L485.38 393.71 L484.38 393.72 L483.39 393.76 L482.39 393.86 L481.4 393.96 L480.41 394.12 L479.42 394.28 L478.44 394.47 L477.46 394.68 L476.49 394.91 L475.52 395.16 L474.55 395.41 L473.59 395.69 L472.63 395.97 L471.68 396.28 L470.73 396.58 L469.79 396.92 L468.84 397.25 L467.9 397.6 L466.97 397.95 L466.04 398.32 L465.11 398.69 L464.19 399.08 L463.27 399.47 L462.35 399.87 L461.44 400.28 L460.53 400.69 L459.63 401.12 L458.73 401.56 L457.83 402 L456.94 402.45 L456.05 402.91 L455.16 403.37 L454.28 403.84 L453.4 404.31 L452.52 404.79 L451.65 405.27 L450.78 405.77 L449.91 406.27 L449.05 406.78 L448.19 407.29 L447.33 407.81 L446.48 408.33 L445.63 408.86 L444.79 409.39 L443.95 409.93 L443.11 410.48 L442.27 411.03 L441.44 411.59 L440.61 412.15 L439.79 412.71 L438.96 413.27 L438.14 413.84 L437.32 414.42 L436.51 414.99 L435.69 415.58 L434.88 416.17 L434.08 416.76 L433.28 417.36 L432.48 417.96 L431.68 418.56 L430.89 419.17 L430.09 419.77 L429.3 420.38 L428.51 421 L427.72 421.61 L426.94 422.24 L426.16 422.86 L425.38 423.49 L424.6 424.11 L423.82 424.74 L423.04 425.37 L422.27 426 L421.5 426.65 L420.73 427.28 L419.96 427.92 L419.19 428.56 L418.42 429.2 L417.66 429.85 L416.9 430.5 L416.15 431.15 L415.38 431.79 L414.62 432.44 L413.85 433.09 L413.1 433.75 L412.35 434.4 L411.59 435.05 L410.84 435.71 L410.08 436.36 L409.33 437.03 L408.58 437.69 L407.83 438.35 L407.09 439.02 L406.33 439.68 L405.6 440.35 L404.85 441.02 L404.11 441.69 L403.37 442.37 L402.63 443.04 L401.9 443.72 L401.18 444.41 L400.45 445.1 L399.73 445.79 L399.02 446.49 L398.31 447.2 L397.63 447.93 L396.95 448.67 L396.3 449.43 L395.71 450.23 L395.17 451.07 L395.49 451.51 L396.34 452.02 L397.26 452.19 L398.23 451.96"/>
<path d="M421.1 441.7 L422.02 441.33 L422.95 440.94 L423.87 440.56 L424.79 440.18 L425.71 439.78 L426.63 439.39 L427.55 439 L428.47 438.6 L429.39 438.21 L430.31 437.82 L431.23 437.41 L432.14 437.02 L433.06 436.61 L433.97 436.2 L434.88 435.8 L435.8 435.39 L436.71 434.98 L437.62 434.57 L438.53 434.16 L439.44 433.74 L440.35 433.32 L441.26 432.9 L442.16 432.47 L443.07 432.05 L443.97 431.63 L444.88 431.2 L445.78 430.77 L446.68 430.33 L447.58 429.9 L448.48 429.45 L449.37 429.01 L450.27 428.56 L451.16 428.11 L452.05 427.66 L452.94 427.21 L453.83 426.75 L454.72 426.29 L455.6 425.82 L456.49 425.35 L457.37 424.88 L458.24 424.4 L459.12 423.92 L459.99 423.43 L460.86 422.93 L461.73 422.44 L462.59 421.93 L463.46 421.43 L464.31 420.91 L465.17 420.39 L466.02 419.86 L466.87 419.34 L467.71 418.79 L468.55 418.25 L469.38 417.7 L470.21 417.14 L471.03 416.57 L471.85 415.99 L472.65 415.4 L473.46 414.81 L474.25 414.2 L475.04 413.58 L475.82 412.96 L476.59 412.32 L477.35 411.67 L478.1 411 L478.82 410.32 L479.54 409.62 L480.24 408.91 L480.91 408.17 L481.55 407.4 L482.18 406.62 L482.75 405.8 L483.26 404.94 L483.71 404.05 L484.03 403.11 L484.19 402.13 L484.08 401.14 L483.67 400.24 L482.93 399.58 L482.04 399.14 L481.08 398.87 L480.09 398.72 L479.09 398.66 L478.09 398.66 L477.1 398.72 L476.1 398.81 L475.11 398.97 L474.13 399.13 L473.15 399.34 L472.17 399.56 L471.2 399.8 L470.24 400.07 L469.28 400.35 L468.33 400.65 L467.37 400.96 L466.43 401.29 L465.49 401.63 L464.55 401.98 L463.62 402.34 L462.7 402.72 L461.77 403.1 L460.86 403.51 L459.94 403.91 L459.03 404.32 L458.13 404.75 L457.22 405.18 L456.33 405.62 L455.43 406.06 L454.54 406.52 L453.65 406.98 L452.77 407.45 L451.89 407.93 L451.02 408.41 L450.15 408.9 L449.28 409.4 L448.41 409.9 L447.55 410.41 L446.7 410.93 L445.84 411.45 L444.99 411.97 L444.14 412.5 L443.3 413.04 L442.46 413.58 L441.62 414.13 L440.79 414.68 L439.96 415.24 L439.13 415.8 L438.31 416.37 L437.49 416.94 L436.67 417.51 L435.85 418.09 L435.04 418.68 L434.23 419.26 L433.42 419.85 L432.61 420.44 L431.81 421.03 L431.01 421.63 L430.21 422.24 L429.42 422.84 L428.63 423.46 L427.84 424.07 L427.05 424.68 L426.26 425.3 L425.47 425.91 L424.69 426.54 L423.91 427.16 L423.13 427.79 L422.36 428.42 L421.58 429.06 L420.81 429.69 L420.03 430.32 L419.26 430.96 L418.5 431.6 L417.74 432.25 L416.97 432.89 L416.21 433.54 L415.44 434.19 L414.69 434.84 L413.93 435.5 L413.18 436.16 L412.43 436.82 L411.68 437.48 L410.94 438.15 L410.2 438.82 L409.46 439.5 L408.73 440.18 L408 440.87 L407.28 441.56 L406.58 442.27 L405.88 442.99 L405.2 443.72 L404.55 444.48 L403.95 445.28 L403.48 446.14 L403.39 447.01 L404.07 447.27 L405.07 447.23 L406.05 447.1 L407.02 446.87 L407.99 446.6 L408.94 446.31 L409.66 446.07"/>
<path d="M465.62 404.26 L464.67 404.57 L463.72 404.88 L462.78 405.22 L461.84 405.57 L460.91 405.93 L459.98 406.31 L459.06 406.7 L458.14 407.1 L457.23 407.51 L456.33 407.93 L455.42 408.36 L454.53 408.8 L453.63 409.25 L452.74 409.71 L451.86 410.17 L450.98 410.65 L450.1 411.13 L449.23 411.61 L448.36 412.11 L447.49 412.61 L446.63 413.12 L445.77 413.63 L444.92 414.15 L444.07 414.67 L443.22 415.21 L442.37 415.74 L441.53 416.29 L440.7 416.83 L439.86 417.38 L439.03 417.94 L438.21 418.5 L437.38 419.07 L436.56 419.64 L435.74 420.21 L434.93 420.8 L434.12 421.38 L433.31 421.96 L432.5 422.55 L431.69 423.15 L430.89 423.74 L430.09 424.34 L429.29 424.95 L428.5 425.56 L427.71 426.17 L426.92 426.79 L426.14 427.4 L425.35 428.02 L424.57 428.65 L423.79 429.27 L423.01 429.91 L422.24 430.54 L421.47 431.18 L420.71 431.82 L419.94 432.47 L419.18 433.11 L418.42 433.77 L417.67 434.42 L416.92 435.09 L416.18 435.76 L415.44 436.43 L414.71 437.11 L413.99 437.8 L413.28 438.51 L412.59 439.23 L411.92 439.98 L411.28 440.75 L410.71 441.57 L410.55 442.54 L410.97 442.98 L411.97 442.95 L412.96 442.85 L413.93 442.61 L414.89 442.34 L415.85 442.05 L416.8 441.73 L417.74 441.4 L418.68 441.07 L419.62 440.73 L420.56 440.37 L421.49 440 L422.42 439.63 L423.34 439.26 L424.27 438.89 L425.2 438.51 L426.12 438.12 L427.04 437.73 L427.96 437.34 L428.88 436.95 L429.8 436.55 L430.71 436.15 L431.63 435.75 L432.54 435.34 L433.46 434.94 L434.37 434.53 L435.28 434.11 L436.19 433.7 L437.1 433.28 L438.01 432.86 L438.91 432.44 L439.82 432.01 L440.72 431.59 L441.62 431.15 L442.53 430.72 L443.42 430.28 L444.32 429.84 L445.22 429.4 L446.11 428.95 L447.01 428.5 L447.9 428.05 L448.79 427.59 L449.68 427.14 L450.56 426.67 L451.45 426.2 L452.33 425.73 L453.21 425.26 L454.09 424.78 L454.96 424.29 L455.83 423.8 L456.7 423.3 L457.57 422.81 L458.43 422.3 L459.29 421.79 L460.14 421.27 L461 420.75 L461.84 420.22 L462.69 419.68 L463.52 419.13 L464.36 418.58 L465.19 418.02 L466.01 417.45 L466.82 416.87 L467.64 416.29 L468.43 415.69 L469.23 415.08 L470.01 414.45 L470.78 413.81 L471.54 413.17 L472.28 412.5 L473.01 411.81 L473.72 411.11 L474.39 410.37 L475.05 409.62 L475.67 408.83 L476.21 407.99 L476.68 407.11 L477 406.17 L477.08 405.19 L476.77 404.28 L476.14 403.51 L475.18 403.22 L474.7 403.08"/>
<path d="M451.5 414.44 L450.6 414.88 L449.7 415.31 L448.81 415.77 L447.93 416.23 L447.05 416.71 L446.18 417.2 L445.31 417.7 L444.45 418.2 L443.59 418.72 L442.73 419.23 L441.89 419.77 L441.04 420.3 L440.2 420.84 L439.36 421.39 L438.54 421.95 L437.71 422.51 L436.89 423.09 L436.07 423.66 L435.26 424.25 L434.46 424.84 L433.65 425.43 L432.85 426.03 L432.05 426.64 L431.27 427.26 L430.49 427.88 L429.72 428.52 L428.96 429.17 L428.21 429.83 L427.46 430.49 L426.72 431.16 L426.06 431.92 L425.4 432.67 L424.9 433.49 L424.81 434.28 L425.53 434.37 L426.53 434.33 L427.5 434.09 L428.45 433.79 L429.41 433.48 L430.36 433.17 L431.28 432.8 L432.21 432.42 L433.13 432.04 L434.05 431.65 L434.97 431.26 L435.89 430.86 L436.8 430.44 L437.71 430.02 L438.61 429.59 L439.51 429.16 L440.41 428.72 L441.31 428.28 L442.2 427.83 L443.09 427.38 L443.98 426.92 L444.87 426.46 L445.75 425.99 L446.63 425.51 L447.51 425.03 L448.38 424.54 L449.24 424.04 L450.11 423.54 L450.97 423.02 L451.82 422.5 L452.67 421.97 L453.52 421.44 L454.35 420.89 L455.19 420.34 L456.01 419.77 L456.21 419.62"/>
</g>
<g transform="rotate(0.02 275 259)" fill="#222" font-family="Liberation Sans, Arial, sans-serif"><text x="509.3" y="377.13" font-size="5.4" text-anchor="middle" transform="rotate(5 509.3 375.2)">0.01</text>
<text x="492.6" y="384.33" font-size="5.4" text-anchor="middle" transform="rotate(-10 492.6 382.4)">0.025</text>
<text x="474.7" y="393.13" font-size="5.4" text-anchor="middle" transform="rotate(-20 474.7 391.2)">0.05</text>
<text x="402.8" y="452.63" font-size="5.4" text-anchor="middle" transform="rotate(-20 402.8 450.7)">0.1</text>
<text x="415.2" y="445.03" font-size="5.4" text-anchor="middle" transform="rotate(-20 415.2 443.1)">0.15</text>
<text x="470.2" y="405.83" font-size="5.4" text-anchor="middle" transform="rotate(3 470.2 403.9)">0.2</text>
<text x="457.8" y="414.93" font-size="5.4" text-anchor="middle" transform="rotate(5 457.8 413)">0.3</text></g>
<g stroke="#555" stroke-width="0.75" fill="none">
<rect x="356.33" y="362.2" width="188.44" height="113.4"/>
<line x1="363.31" y1="475.6" x2="363.31" y2="481.1"/>
<line x1="356.33" y1="471.4" x2="350.53" y2="471.4"/>
<line x1="392.39" y1="475.6" x2="392.39" y2="481.1"/>
<line x1="356.33" y1="453.9" x2="350.53" y2="453.9"/>
<line x1="421.47" y1="475.6" x2="421.47" y2="481.1"/>
<line x1="356.33" y1="436.4" x2="350.53" y2="436.4"/>
<line x1="450.55" y1="475.6" x2="450.55" y2="481.1"/>
<line x1="356.33" y1="418.9" x2="350.53" y2="418.9"/>
<line x1="479.63" y1="475.6" x2="479.63" y2="481.1"/>
<line x1="356.33" y1="401.4" x2="350.53" y2="401.4"/>
<line x1="508.71" y1="475.6" x2="508.71" y2="481.1"/>
<line x1="356.33" y1="383.9" x2="350.53" y2="383.9"/>
<line x1="537.79" y1="475.6" x2="537.79" y2="481.1"/>
<line x1="356.33" y1="366.4" x2="350.53" y2="366.4"/>
</g>
<g transform="rotate(0.02 275 259)" fill="#1c1c1c" stroke="#1c1c1c" stroke-width="0.2" font-family="Liberation Sans, Arial, sans-serif"><text x="363.31" y="495.52" font-size="9.0" text-anchor="middle">-3</text>
<text x="340.03" y="474.62" font-size="9.0" text-anchor="middle" transform="rotate(-90 340.03 471.4)">-3</text>
<text x="392.39" y="495.52" font-size="9.0" text-anchor="middle">-2</text>
<text x="340.03" y="457.12" font-size="9.0" text-anchor="middle" transform="rotate(-90 340.03 453.9)">-2</text>
<text x="421.47" y="495.52" font-size="9.0" text-anchor="middle">-1</text>
<text x="340.03" y="439.62" font-size="9.0" text-anchor="middle" transform="rotate(-90 340.03 436.4)">-1</text>
<text x="450.55" y="495.52" font-size="9.0" text-anchor="middle">0</text>
<text x="340.03" y="422.12" font-size="9.0" text-anchor="middle" transform="rotate(-90 340.03 418.9)">0</text>
<text x="479.63" y="495.52" font-size="9.0" text-anchor="middle">1</text>
<text x="340.03" y="404.62" font-size="9.0" text-anchor="middle" transform="rotate(-90 340.03 401.4)">1</text>
<text x="508.71" y="495.52" font-size="9.0" text-anchor="middle">2</text>
<text x="340.03" y="387.12" font-size="9.0" text-anchor="middle" transform="rotate(-90 340.03 383.9)">2</text>
<text x="537.79" y="495.52" font-size="9.0" text-anchor="middle">3</text>
<text x="340.03" y="369.62" font-size="9.0" text-anchor="middle" transform="rotate(-90 340.03 366.4)">3</text>
<text x="450.55" y="515.09" font-size="9.2" text-anchor="middle">z<tspan font-size="6.9" dy="2.3">1</tspan></text>
<g transform="rotate(-90 316.33 418.1)"><text x="316.33" y="421.32" font-size="9.0" text-anchor="middle">z<tspan font-size="6.75" dy="2.25">2</tspan></text></g></g></g>
</svg>
<div id="title-b"><span class="t" style="left:46.27px;top:2px;transform:translateY(1.4px) rotate(0.03deg) scaleX(1.1420)">(<b>b</b>)</span> <span class="t" style="left:73.87px;top:2px;transform:translateY(1.4px) rotate(0.03deg) scaleX(1.1703)">Rotated</span> <span class="t" style="left:142.17px;top:2px;transform:translateY(1.4px) rotate(0.03deg) scaleX(0.9307)">BB8</span> <span class="t" style="left:176.53px;top:2px;transform:translateY(1.4px) rotate(0.03deg) scaleX(1.0709)">270</span> <span class="t" style="left:208.21px;top:2px;transform:translateY(1.4px) rotate(0.03deg) scaleX(1.1929)">degrees</span> <span class="t" style="left:275.73px;top:2px;transform:translateY(1.4px) rotate(0.03deg) scaleX(1.1736)">(Par</span> <span class="t" style="left:312.01px;top:2px;transform:translateY(1.4px) rotate(0.03deg) scaleX(1.0906)">=</span> <span class="t" style="left:324.65px;top:2px;transform:translateY(1.4px) rotate(0.03deg) scaleX(1.0779)">−5.68,</span> <span class="t" style="left:376.38px;top:2px;transform:translateY(1.4px) rotate(0.03deg) scaleX(1.1638)">Par2</span> <span class="t" style="left:414.81px;top:2px;transform:translateY(1.4px) rotate(0.03deg) scaleX(1.0818)">=</span> <span class="t" style="left:428.89px;top:2px;transform:translateY(1.4px) rotate(0.03deg) scaleX(1.0457)">−0.80)</span></div>
<div id="title-c"><span class="t" style="left:133.32px;top:277px;transform:translateY(1.4px) rotate(0.03deg) scaleX(1.0827)">(<b>c</b>)</span> <span class="t" style="left:158.59px;top:277px;transform:translateY(1.4px) rotate(0.03deg) scaleX(1.1652)">Survival</span> <span class="t" style="left:230.82px;top:277px;transform:translateY(1.4px) rotate(0.03deg) scaleX(1.1807)">Gumbel</span> <span class="t" style="left:300.73px;top:277px;transform:translateY(1.4px) rotate(0.03deg) scaleX(1.1736)">(Par</span> <span class="t" style="left:337.03px;top:277px;transform:translateY(1.4px) rotate(0.03deg) scaleX(1.0706)">=</span> <span class="t" style="left:349.91px;top:277px;transform:translateY(1.4px) rotate(0.03deg) scaleX(1.0882)">3.09)</span></div>
</body></html>
